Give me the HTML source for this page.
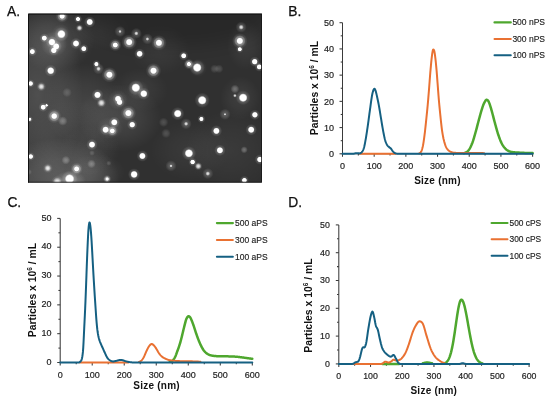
<!DOCTYPE html>
<html lang="en"><head><meta charset="utf-8"><title>Figure</title>
<style>
html,body{margin:0;padding:0;background:#fff;}
body{width:550px;height:403px;overflow:hidden;}
svg{display:block;font-family:"Liberation Sans",Arial,sans-serif;}
</style></head><body>
<svg width="550" height="403" viewBox="0 0 550 403">
<rect width="550" height="403" fill="#fff"/>
<defs>
<radialGradient id="gb"><stop offset="0" stop-color="#fff" stop-opacity="1"/><stop offset="0.68" stop-color="#fff" stop-opacity="1"/><stop offset="0.84" stop-color="#fff" stop-opacity="0.55"/><stop offset="1" stop-color="#fff" stop-opacity="0"/></radialGradient>
<radialGradient id="gm"><stop offset="0" stop-color="#fff" stop-opacity="0.85"/><stop offset="0.4" stop-color="#fff" stop-opacity="0.7"/><stop offset="0.75" stop-color="#fff" stop-opacity="0.28"/><stop offset="1" stop-color="#fff" stop-opacity="0"/></radialGradient>
<radialGradient id="gd"><stop offset="0" stop-color="#fff" stop-opacity="0.30"/><stop offset="0.5" stop-color="#fff" stop-opacity="0.2"/><stop offset="1" stop-color="#fff" stop-opacity="0"/></radialGradient>
<radialGradient id="gh"><stop offset="0" stop-color="#fff" stop-opacity="0.26"/><stop offset="0.6" stop-color="#fff" stop-opacity="0.17"/><stop offset="1" stop-color="#fff" stop-opacity="0"/></radialGradient>
<radialGradient id="gr"><stop offset="0" stop-color="#fff" stop-opacity="0.30"/><stop offset="0.72" stop-color="#fff" stop-opacity="0.26"/><stop offset="0.9" stop-color="#fff" stop-opacity="0.12"/><stop offset="1" stop-color="#fff" stop-opacity="0"/></radialGradient>
<radialGradient id="gw"><stop offset="0" stop-color="#fff" stop-opacity="1"/><stop offset="0.5" stop-color="#fff" stop-opacity="0.6"/><stop offset="1" stop-color="#fff" stop-opacity="0"/></radialGradient>
<clipPath id="mc"><rect x="28" y="14" width="234" height="168.6"/></clipPath>
<filter id="bl2" x="-20%" y="-20%" width="140%" height="140%"><feGaussianBlur stdDeviation="8"/></filter>
<filter id="bl" x="-5%" y="-5%" width="110%" height="110%"><feGaussianBlur stdDeviation="0.55"/></filter>
</defs>
<rect x="28" y="13.6" width="234" height="169" fill="#303030"/>
<g clip-path="url(#mc)">
<ellipse cx="38" cy="95" rx="45" ry="95" fill="url(#gw)" opacity="0.15"/>
<ellipse cx="55" cy="40" rx="40" ry="32" fill="url(#gw)" opacity="0.12"/>
<ellipse cx="60" cy="180" rx="60" ry="42" fill="url(#gw)" opacity="0.22"/>
<ellipse cx="120" cy="118" rx="42" ry="34" fill="url(#gw)" opacity="0.11"/>
<ellipse cx="140" cy="90" rx="28" ry="22" fill="url(#gw)" opacity="0.06"/>
<ellipse cx="100" cy="30" rx="30" ry="20" fill="url(#gw)" opacity="0.04"/>
<ellipse cx="190" cy="150" rx="40" ry="30" fill="url(#gw)" opacity="0.05"/>
<ellipse cx="160" cy="50" rx="30" ry="25" fill="url(#gw)" opacity="0.05"/>
<ellipse cx="245" cy="45" rx="18" ry="25" fill="url(#gw)" opacity="0.06"/>
<ellipse cx="90" cy="150" rx="30" ry="25" fill="url(#gw)" opacity="0.06"/>
<ellipse cx="85" cy="105" rx="42" ry="42" fill="url(#gw)" opacity="0.1"/>
<ellipse cx="240" cy="98" rx="20" ry="22" fill="url(#gw)" opacity="0.07"/>
<ellipse cx="230" cy="150" rx="45" ry="40" fill="url(#gw)" opacity="0.05"/>
<ellipse cx="70" cy="140" rx="50" ry="40" fill="url(#gw)" opacity="0.05"/>
<ellipse cx="70" cy="181" rx="16" ry="10" fill="url(#gw)" opacity="0.25"/>
<ellipse cx="95" cy="172" rx="30" ry="18" fill="url(#gw)" opacity="0.08"/>
<ellipse cx="54" cy="44" rx="13" ry="13" fill="url(#gw)" opacity="0.22"/>
<ellipse cx="118" cy="100" rx="10" ry="10" fill="url(#gw)" opacity="0.14"/>
<ellipse cx="110" cy="128" rx="13" ry="11" fill="url(#gw)" opacity="0.12"/>
<ellipse cx="138" cy="90" rx="11" ry="10" fill="url(#gw)" opacity="0.12"/>
<ellipse cx="61" cy="33" rx="9" ry="9" fill="url(#gw)" opacity="0.12"/>
<ellipse cx="198" cy="68" rx="9" ry="9" fill="url(#gw)" opacity="0.1"/>
<ellipse cx="175" cy="12" rx="95" ry="34" fill="#000" opacity="0.16" filter="url(#bl2)"/>
<g filter="url(#bl)">
<circle cx="62.1" cy="16.1" r="6.6" fill="url(#gh)"/>
<circle cx="62.1" cy="16.1" r="4.8" fill="url(#gr)"/>
<circle cx="62.1" cy="16.1" r="3.0" fill="url(#gb)"/>
<circle cx="78.0" cy="19.1" r="4.1" fill="url(#gh)"/>
<circle cx="78.0" cy="19.1" r="2.4" fill="url(#gb)"/>
<circle cx="89.7" cy="22.0" r="5.8" fill="url(#gh)"/>
<circle cx="89.7" cy="22.0" r="3.4" fill="url(#gb)"/>
<circle cx="79.5" cy="28.0" r="3.8" fill="url(#gh)"/>
<circle cx="79.5" cy="28.0" r="2.7" fill="url(#gm)"/>
<circle cx="61.4" cy="34.1" r="7.2" fill="url(#gh)"/>
<circle cx="61.4" cy="34.1" r="4.3" fill="url(#gb)"/>
<circle cx="44.3" cy="38.1" r="4.8" fill="url(#gh)"/>
<circle cx="44.3" cy="38.1" r="2.8" fill="url(#gb)"/>
<circle cx="51.9" cy="42.1" r="6.2" fill="url(#gh)"/>
<circle cx="51.9" cy="42.1" r="3.7" fill="url(#gb)"/>
<circle cx="56.2" cy="46.4" r="5.8" fill="url(#gh)"/>
<circle cx="56.2" cy="46.4" r="3.4" fill="url(#gb)"/>
<circle cx="53.8" cy="50.4" r="5.3" fill="url(#gh)"/>
<circle cx="53.8" cy="50.4" r="3.1" fill="url(#gb)"/>
<circle cx="76.0" cy="43.5" r="5.8" fill="url(#gh)"/>
<circle cx="76.0" cy="43.5" r="3.4" fill="url(#gb)"/>
<circle cx="83.8" cy="48.7" r="4.8" fill="url(#gh)"/>
<circle cx="83.8" cy="48.7" r="2.8" fill="url(#gb)"/>
<circle cx="32.3" cy="51.6" r="4.8" fill="url(#gh)"/>
<circle cx="32.3" cy="51.6" r="2.8" fill="url(#gb)"/>
<circle cx="50.7" cy="70.7" r="6.2" fill="url(#gh)"/>
<circle cx="50.7" cy="70.7" r="3.7" fill="url(#gb)"/>
<circle cx="30.6" cy="83.5" r="4.3" fill="url(#gh)"/>
<circle cx="30.6" cy="83.5" r="2.6" fill="url(#gb)"/>
<circle cx="41.3" cy="86.6" r="4.8" fill="url(#gh)"/>
<circle cx="41.3" cy="86.6" r="3.4" fill="url(#gm)"/>
<circle cx="67.0" cy="92.5" r="4.8" fill="url(#gd)" opacity="0.55"/>
<circle cx="96.4" cy="64.1" r="4.1" fill="url(#gh)"/>
<circle cx="96.4" cy="64.1" r="2.4" fill="url(#gb)"/>
<circle cx="98.5" cy="68.8" r="5.6" fill="url(#gd)" opacity="0.8"/>
<circle cx="98.5" cy="68.8" r="2.4" fill="url(#gm)"/>
<circle cx="109.4" cy="74.7" r="7.8" fill="url(#gh)"/>
<circle cx="109.4" cy="74.7" r="5.7" fill="url(#gr)"/>
<circle cx="109.4" cy="74.7" r="3.5" fill="url(#gb)"/>
<circle cx="115.3" cy="45.0" r="6.3" fill="url(#gh)"/>
<circle cx="115.3" cy="45.0" r="4.6" fill="url(#gr)"/>
<circle cx="115.3" cy="45.0" r="2.8" fill="url(#gb)"/>
<circle cx="129.2" cy="42.1" r="7.8" fill="url(#gh)"/>
<circle cx="129.2" cy="42.1" r="5.7" fill="url(#gr)"/>
<circle cx="129.2" cy="42.1" r="3.5" fill="url(#gb)"/>
<circle cx="136.3" cy="33.4" r="5.6" fill="url(#gd)" opacity="0.8"/>
<circle cx="136.3" cy="33.4" r="2.2" fill="url(#gm)"/>
<circle cx="120.0" cy="31.5" r="5.6" fill="url(#gd)" opacity="0.8"/>
<circle cx="120.0" cy="31.5" r="1.7" fill="url(#gm)"/>
<circle cx="139.6" cy="53.8" r="5.5" fill="url(#gh)"/>
<circle cx="139.6" cy="53.8" r="3.3" fill="url(#gb)"/>
<circle cx="135.8" cy="87.7" r="7.7" fill="url(#gh)"/>
<circle cx="135.8" cy="87.7" r="4.5" fill="url(#gb)"/>
<circle cx="143.8" cy="93.7" r="6.2" fill="url(#gh)"/>
<circle cx="143.8" cy="93.7" r="3.7" fill="url(#gb)"/>
<circle cx="97.5" cy="94.9" r="6.0" fill="url(#gh)"/>
<circle cx="97.5" cy="94.9" r="3.5" fill="url(#gb)"/>
<circle cx="118.0" cy="98.8" r="5.5" fill="url(#gh)"/>
<circle cx="118.0" cy="98.8" r="3.3" fill="url(#gb)"/>
<circle cx="119.6" cy="102.2" r="5.3" fill="url(#gh)"/>
<circle cx="119.6" cy="102.2" r="3.1" fill="url(#gb)"/>
<circle cx="147.4" cy="39.0" r="5.6" fill="url(#gd)" opacity="0.8"/>
<circle cx="147.4" cy="39.0" r="1.9" fill="url(#gm)"/>
<circle cx="158.9" cy="42.8" r="7.8" fill="url(#gh)"/>
<circle cx="158.9" cy="42.8" r="5.7" fill="url(#gr)"/>
<circle cx="158.9" cy="42.8" r="3.5" fill="url(#gb)"/>
<circle cx="183.7" cy="55.8" r="4.8" fill="url(#gh)"/>
<circle cx="183.7" cy="55.8" r="2.8" fill="url(#gb)"/>
<circle cx="188.9" cy="64.1" r="5.4" fill="url(#gh)"/>
<circle cx="188.9" cy="64.1" r="4.0" fill="url(#gr)"/>
<circle cx="188.9" cy="64.1" r="2.4" fill="url(#gb)"/>
<circle cx="197.2" cy="67.6" r="7.7" fill="url(#gh)"/>
<circle cx="197.2" cy="67.6" r="4.5" fill="url(#gb)"/>
<circle cx="153.5" cy="70.7" r="7.8" fill="url(#gh)"/>
<circle cx="153.5" cy="70.7" r="5.7" fill="url(#gr)"/>
<circle cx="153.5" cy="70.7" r="3.5" fill="url(#gb)"/>
<circle cx="202.2" cy="100.3" r="7.7" fill="url(#gh)"/>
<circle cx="202.2" cy="100.3" r="4.5" fill="url(#gb)"/>
<circle cx="241.2" cy="27.2" r="5.6" fill="url(#gd)" opacity="0.8"/>
<circle cx="241.2" cy="27.2" r="2.6" fill="url(#gm)"/>
<circle cx="239.8" cy="40.9" r="7.8" fill="url(#gh)"/>
<circle cx="239.8" cy="40.9" r="5.7" fill="url(#gr)"/>
<circle cx="239.8" cy="40.9" r="3.5" fill="url(#gb)"/>
<circle cx="239.8" cy="49.2" r="3.8" fill="url(#gh)"/>
<circle cx="239.8" cy="49.2" r="2.3" fill="url(#gb)"/>
<circle cx="254.7" cy="61.7" r="5.3" fill="url(#gh)"/>
<circle cx="254.7" cy="61.7" r="3.1" fill="url(#gb)"/>
<circle cx="259.3" cy="66.9" r="4.8" fill="url(#gh)"/>
<circle cx="259.3" cy="66.9" r="2.8" fill="url(#gb)"/>
<circle cx="243.1" cy="97.7" r="7.4" fill="url(#gh)"/>
<circle cx="243.1" cy="97.7" r="4.4" fill="url(#gb)"/>
<circle cx="214.5" cy="68.8" r="4.4" fill="url(#gd)" opacity="0.55"/>
<circle cx="219.0" cy="68.8" r="4.4" fill="url(#gd)" opacity="0.55"/>
<circle cx="101.4" cy="102.9" r="5.0" fill="url(#gh)"/>
<circle cx="101.4" cy="102.9" r="3.6" fill="url(#gm)"/>
<circle cx="43.2" cy="107.2" r="4.8" fill="url(#gh)"/>
<circle cx="43.2" cy="107.2" r="2.8" fill="url(#gb)"/>
<circle cx="46.6" cy="105.4" r="2.4" fill="url(#gh)"/>
<circle cx="46.6" cy="105.4" r="1.4" fill="url(#gb)"/>
<circle cx="54.2" cy="116.1" r="7.2" fill="url(#gh)"/>
<circle cx="54.2" cy="116.1" r="5.3" fill="url(#gr)"/>
<circle cx="54.2" cy="116.1" r="3.2" fill="url(#gb)"/>
<circle cx="62.7" cy="121.0" r="4.8" fill="url(#gd)"/>
<circle cx="29.8" cy="119.3" r="3.1" fill="url(#gh)"/>
<circle cx="29.8" cy="119.3" r="1.8" fill="url(#gb)"/>
<circle cx="128.4" cy="113.1" r="7.8" fill="url(#gh)"/>
<circle cx="128.4" cy="113.1" r="5.7" fill="url(#gr)"/>
<circle cx="128.4" cy="113.1" r="3.5" fill="url(#gb)"/>
<circle cx="114.3" cy="122.3" r="5.8" fill="url(#gh)"/>
<circle cx="114.3" cy="122.3" r="3.4" fill="url(#gb)"/>
<circle cx="132.2" cy="124.7" r="5.3" fill="url(#gh)"/>
<circle cx="132.2" cy="124.7" r="3.1" fill="url(#gb)"/>
<circle cx="105.6" cy="129.7" r="5.8" fill="url(#gh)"/>
<circle cx="105.6" cy="129.7" r="3.4" fill="url(#gb)"/>
<circle cx="112.3" cy="130.9" r="6.0" fill="url(#gh)"/>
<circle cx="112.3" cy="130.9" r="4.4" fill="url(#gr)"/>
<circle cx="112.3" cy="130.9" r="2.7" fill="url(#gb)"/>
<circle cx="92.0" cy="144.6" r="5.8" fill="url(#gh)"/>
<circle cx="92.0" cy="144.6" r="3.4" fill="url(#gb)"/>
<circle cx="142.4" cy="156.0" r="5.8" fill="url(#gh)"/>
<circle cx="142.4" cy="156.0" r="3.4" fill="url(#gb)"/>
<circle cx="30.7" cy="156.5" r="4.3" fill="url(#gh)"/>
<circle cx="30.7" cy="156.5" r="2.6" fill="url(#gb)"/>
<circle cx="65.9" cy="160.2" r="4.4" fill="url(#gd)"/>
<circle cx="91.5" cy="163.9" r="4.4" fill="url(#gd)"/>
<circle cx="47.8" cy="168.2" r="4.2" fill="url(#gh)"/>
<circle cx="47.8" cy="168.2" r="3.1" fill="url(#gm)"/>
<circle cx="47.8" cy="168.2" r="5.2" fill="url(#gd)" opacity="0.55"/>
<circle cx="76.6" cy="168.9" r="6.3" fill="url(#gh)"/>
<circle cx="76.6" cy="168.9" r="4.6" fill="url(#gr)"/>
<circle cx="76.6" cy="168.9" r="2.8" fill="url(#gb)"/>
<circle cx="134.1" cy="174.4" r="6.2" fill="url(#gh)"/>
<circle cx="134.1" cy="174.4" r="3.7" fill="url(#gb)"/>
<circle cx="69.6" cy="178.8" r="8.2" fill="url(#gh)"/>
<circle cx="69.6" cy="178.8" r="4.8" fill="url(#gb)"/>
<circle cx="57.2" cy="181.8" r="6.0" fill="url(#gh)"/>
<circle cx="57.2" cy="181.8" r="4.3" fill="url(#gm)"/>
<circle cx="107.1" cy="179.0" r="4.2" fill="url(#gh)"/>
<circle cx="107.1" cy="179.0" r="3.1" fill="url(#gr)"/>
<circle cx="107.1" cy="179.0" r="1.9" fill="url(#gb)"/>
<circle cx="92.0" cy="153.0" r="2.8" fill="url(#gd)" opacity="0.55"/>
<circle cx="29.0" cy="172.0" r="3.0" fill="url(#gd)" opacity="0.55"/>
<circle cx="108.8" cy="163.2" r="2.6" fill="url(#gd)" opacity="0.55"/>
<circle cx="177.7" cy="113.6" r="6.7" fill="url(#gh)"/>
<circle cx="177.7" cy="113.6" r="4.0" fill="url(#gb)"/>
<circle cx="201.4" cy="119.0" r="4.1" fill="url(#gh)"/>
<circle cx="201.4" cy="119.0" r="2.4" fill="url(#gb)"/>
<circle cx="186.1" cy="123.8" r="5.6" fill="url(#gd)" opacity="0.8"/>
<circle cx="186.1" cy="123.8" r="2.2" fill="url(#gm)"/>
<circle cx="225.0" cy="114.3" r="5.6" fill="url(#gd)" opacity="0.8"/>
<circle cx="225.0" cy="114.3" r="1.4" fill="url(#gm)"/>
<circle cx="254.9" cy="114.8" r="5.3" fill="url(#gh)"/>
<circle cx="254.9" cy="114.8" r="3.1" fill="url(#gb)"/>
<circle cx="216.4" cy="130.9" r="5.8" fill="url(#gh)"/>
<circle cx="216.4" cy="130.9" r="3.4" fill="url(#gb)"/>
<circle cx="251.2" cy="129.7" r="5.8" fill="url(#gh)"/>
<circle cx="251.2" cy="129.7" r="3.4" fill="url(#gb)"/>
<circle cx="163.6" cy="122.3" r="4.8" fill="url(#gd)" opacity="0.55"/>
<circle cx="166.0" cy="133.4" r="4.8" fill="url(#gd)" opacity="0.55"/>
<circle cx="219.9" cy="150.3" r="5.8" fill="url(#gh)"/>
<circle cx="219.9" cy="150.3" r="3.4" fill="url(#gb)"/>
<circle cx="188.9" cy="153.3" r="7.2" fill="url(#gh)"/>
<circle cx="188.9" cy="153.3" r="4.3" fill="url(#gb)"/>
<circle cx="192.6" cy="162.0" r="4.3" fill="url(#gh)"/>
<circle cx="192.6" cy="162.0" r="2.6" fill="url(#gb)"/>
<circle cx="198.3" cy="166.2" r="4.2" fill="url(#gh)"/>
<circle cx="198.3" cy="166.2" r="3.1" fill="url(#gm)"/>
<circle cx="171.0" cy="165.9" r="5.6" fill="url(#gd)" opacity="0.8"/>
<circle cx="171.0" cy="165.9" r="1.7" fill="url(#gm)"/>
<circle cx="207.8" cy="173.6" r="5.6" fill="url(#gd)" opacity="0.8"/>
<circle cx="207.8" cy="173.6" r="2.4" fill="url(#gm)"/>
<circle cx="244.4" cy="180.3" r="4.6" fill="url(#gh)"/>
<circle cx="244.4" cy="180.3" r="2.7" fill="url(#gb)"/>
<circle cx="259.9" cy="159.5" r="5.3" fill="url(#gh)"/>
<circle cx="259.9" cy="159.5" r="3.1" fill="url(#gb)"/>
<circle cx="244.2" cy="149.8" r="3.6" fill="url(#gd)"/>
<circle cx="234.9" cy="89.0" r="4.4" fill="url(#gd)"/>
<circle cx="234.9" cy="95.6" r="2.2" fill="url(#gh)"/>
<circle cx="234.9" cy="95.6" r="1.6" fill="url(#gm)"/>
</g></g>
<path d="M28.5 182.6 V14.1 H261.8" stroke="#111" stroke-width="1" fill="none"/>
<path d="M28.2 182.2 H261.5 V14" stroke="#161616" stroke-width="0.8" fill="none"/>
<g font-size="13.8" fill="#111" stroke="#111" stroke-width="0.25">
<text x="7" y="16">A.</text>
<text x="288.2" y="16">B.</text>
<text x="7.4" y="207.4">C.</text>
<text x="288.2" y="207.2">D.</text>
</g>
<g stroke="#3a3a3a" stroke-width="1.05" fill="none">
<path d="M342.50 22.70 V153.80"/>
<path d="M342.50 153.80 H532.60"/>
<path d="M339.50 153.80 H342.50"/>
<path d="M340.70 140.69 H342.50"/>
<path d="M339.50 127.58 H342.50"/>
<path d="M340.70 114.47 H342.50"/>
<path d="M339.50 101.36 H342.50"/>
<path d="M340.70 88.25 H342.50"/>
<path d="M339.50 75.14 H342.50"/>
<path d="M340.70 62.03 H342.50"/>
<path d="M339.50 48.92 H342.50"/>
<path d="M340.70 35.81 H342.50"/>
<path d="M339.50 22.70 H342.50"/>
<path d="M342.50 153.80 V156.80"/>
<path d="M358.34 153.80 V155.60"/>
<path d="M374.18 153.80 V156.80"/>
<path d="M390.02 153.80 V155.60"/>
<path d="M405.87 153.80 V156.80"/>
<path d="M421.71 153.80 V155.60"/>
<path d="M437.55 153.80 V156.80"/>
<path d="M453.39 153.80 V155.60"/>
<path d="M469.23 153.80 V156.80"/>
<path d="M485.08 153.80 V155.60"/>
<path d="M500.92 153.80 V156.80"/>
<path d="M516.76 153.80 V155.60"/>
<path d="M532.60 153.80 V156.80"/>
</g>
<path d="M463.85 153.24 L464.16 153.16 L464.48 153.07 L464.80 152.95 L465.11 152.80 L465.43 152.63 L465.75 152.46 L466.06 152.29 L466.38 152.12 L466.70 151.94 L467.02 151.74 L467.33 151.52 L467.65 151.27 L467.97 150.97 L468.28 150.64 L468.60 150.26 L468.92 149.82 L469.23 149.35 L469.55 148.85 L469.87 148.32 L470.18 147.75 L470.50 147.14 L470.82 146.50 L471.13 145.82 L471.45 145.11 L471.77 144.35 L472.08 143.56 L472.40 142.72 L472.72 141.82 L473.04 140.88 L473.35 139.89 L473.67 138.86 L473.99 137.80 L474.30 136.71 L474.62 135.61 L474.94 134.50 L475.25 133.38 L475.57 132.26 L475.89 131.14 L476.20 129.98 L476.52 128.80 L476.84 127.60 L477.15 126.38 L477.47 125.16 L477.79 123.93 L478.10 122.72 L478.42 121.51 L478.74 120.32 L479.06 119.16 L479.37 118.01 L479.69 116.85 L480.01 115.69 L480.32 114.54 L480.64 113.39 L480.96 112.26 L481.27 111.15 L481.59 110.07 L481.91 109.03 L482.22 108.02 L482.54 107.05 L482.86 106.15 L483.17 105.31 L483.49 104.53 L483.81 103.80 L484.12 103.13 L484.44 102.49 L484.76 101.89 L485.08 101.32 L485.39 100.78 L485.71 100.34 L486.03 100.01 L486.34 99.82 L486.66 99.79 L486.98 99.86 L487.29 99.99 L487.61 100.19 L487.93 100.49 L488.24 100.90 L488.56 101.43 L488.88 102.10 L489.19 102.86 L489.51 103.70 L489.83 104.61 L490.14 105.57 L490.46 106.58 L490.78 107.62 L491.09 108.69 L491.41 109.77 L491.73 110.89 L492.05 112.06 L492.36 113.25 L492.68 114.46 L493.00 115.68 L493.31 116.92 L493.63 118.15 L493.95 119.37 L494.26 120.57 L494.58 121.76 L494.90 122.91 L495.21 124.07 L495.53 125.24 L495.85 126.40 L496.16 127.55 L496.48 128.70 L496.80 129.82 L497.11 130.93 L497.43 132.00 L497.75 133.04 L498.07 134.04 L498.38 135.00 L498.70 135.94 L499.02 136.84 L499.33 137.72 L499.65 138.58 L499.97 139.40 L500.28 140.20 L500.60 140.96 L500.92 141.69 L501.23 142.39 L501.55 143.06 L501.87 143.69 L502.18 144.28 L502.50 144.83 L502.82 145.35 L503.13 145.84 L503.45 146.30 L503.77 146.74 L504.09 147.15 L504.40 147.55 L504.72 147.92 L505.04 148.28 L505.35 148.63 L505.67 148.95 L505.99 149.24 L506.30 149.52 L506.62 149.77 L506.94 150.00 L507.25 150.21 L507.57 150.41 L507.89 150.60 L508.20 150.78 L508.52 150.95 L508.84 151.12 L509.15 151.27 L509.47 151.40 L509.79 151.52 L510.10 151.63 L510.42 151.72 L510.74 151.80 L511.06 151.88 L511.37 151.94 L511.69 152.00 L512.01 152.05 L512.32 152.10 L512.64 152.15 L512.96 152.19 L513.27 152.22 L513.59 152.26 L513.91 152.29 L514.22 152.31 L514.54 152.34 L514.86 152.36 L515.17 152.38 L515.49 152.40 L515.81 152.42 L516.12 152.44 L516.44 152.46 L516.76 152.47 L517.08 152.49 L517.39 152.50 L517.71 152.52 L518.03 152.54 L518.34 152.55 L518.66 152.57 L518.98 152.59 L519.29 152.61 L519.61 152.63 L519.93 152.65 L520.24 152.67 L520.56 152.68 L520.88 152.70 L521.19 152.72 L521.51 152.73 L521.83 152.75 L522.14 152.77 L522.46 152.78 L522.78 152.80 L523.10 152.81 L523.41 152.83 L523.73 152.84 L524.05 152.85 L524.36 152.87 L524.68 152.88 L525.00 152.89 L525.31 152.91 L525.63 152.92 L525.95 152.93 L526.26 152.94 L526.58 152.96 L526.90 152.97 L527.21 152.98 L527.53 152.99 L527.85 153.00 L528.16 153.01 L528.48 153.01 L528.80 153.02 L529.11 153.03 L529.43 153.04 L529.75 153.05 L530.07 153.05 L530.38 153.06 L530.70 153.07 L531.02 153.08 L531.33 153.09 L531.65 153.09 L531.97 153.10 L532.28 153.11 L532.60 153.12" fill="none" stroke="#4EA72E" stroke-width="2.5" stroke-linejoin="round" stroke-linecap="round"/>
<path d="M359.93 153.80 L360.24 153.80 L360.56 153.80 L360.88 153.80 L361.19 153.80 L361.51 153.80 L361.83 153.80 L362.14 153.80 L362.46 153.80 L362.78 153.80 L363.09 153.80 L363.41 153.80 L363.73 153.80 L364.04 153.80 L364.36 153.80 L364.68 153.80 L365.00 153.80 L365.31 153.80 L365.63 153.80 L365.95 153.80 L366.26 153.80 L366.58 153.80 L366.90 153.80 L367.21 153.80 L367.53 153.80 L367.85 153.80 L368.16 153.80 L368.48 153.80 L368.80 153.80 L369.11 153.80 L369.43 153.80 L369.75 153.80 L370.06 153.80 L370.38 153.80 L370.70 153.80 L371.01 153.80 L371.33 153.80 L371.65 153.80 L371.97 153.80 L372.28 153.80 L372.60 153.80 L372.92 153.80 L373.23 153.80 L373.55 153.80 L373.87 153.80 L374.18 153.80 L374.50 153.80 L374.82 153.80 L375.13 153.80 L375.45 153.80 L375.77 153.80 L376.08 153.80 L376.40 153.80 L376.72 153.80 L377.03 153.80 L377.35 153.80 L377.67 153.80 L377.99 153.80 L378.30 153.80 L378.62 153.80 L378.94 153.80 L379.25 153.80 L379.57 153.80 L379.89 153.80 L380.20 153.80 L380.52 153.80 L380.84 153.80 L381.15 153.80 L381.47 153.80 L381.79 153.80 L382.10 153.80 L382.42 153.80 L382.74 153.80 L383.05 153.80 L383.37 153.80 L383.69 153.80 L384.01 153.80 L384.32 153.80 L384.64 153.80 L384.96 153.80 L385.27 153.80 L385.59 153.80 L385.91 153.80 L386.22 153.80 L386.54 153.80 L386.86 153.80 L387.17 153.80 L387.49 153.80 L387.81 153.80 L388.12 153.80 L388.44 153.80 L388.76 153.80 L389.07 153.80 L389.39 153.80 L389.71 153.80 L390.02 153.80 L390.34 153.80 L390.66 153.80 L390.98 153.80 L391.29 153.80 L391.61 153.80 L391.93 153.80 L392.24 153.80 L392.56 153.80 L392.88 153.80 L393.19 153.80 L393.51 153.80 L393.83 153.80 L394.14 153.80 L394.46 153.80 L394.78 153.80 L395.09 153.80 L395.41 153.80 M419.17 153.35 L419.49 153.22 L419.81 153.02 L420.12 152.75 L420.44 152.44 L420.76 152.11 L421.07 151.69 L421.39 151.14 L421.71 150.39 L422.03 149.45 L422.34 148.33 L422.66 147.03 L422.98 145.54 L423.29 143.82 L423.61 141.87 L423.93 139.71 L424.24 137.37 L424.56 134.89 L424.88 132.29 L425.19 129.51 L425.51 126.59 L425.83 123.58 L426.14 120.54 L426.46 117.51 L426.78 114.46 L427.09 111.35 L427.41 108.13 L427.73 104.77 L428.05 101.20 L428.36 97.42 L428.68 93.52 L429.00 89.56 L429.31 85.46 L429.63 81.20 L429.95 77.00 L430.26 73.04 L430.58 69.34 L430.90 65.79 L431.21 62.46 L431.53 59.41 L431.85 56.66 L432.16 54.23 L432.48 52.16 L432.80 50.55 L433.11 49.67 L433.43 49.44 L433.75 49.70 L434.06 50.39 L434.38 51.54 L434.70 53.20 L435.02 55.33 L435.33 57.83 L435.65 60.64 L435.97 63.73 L436.28 67.08 L436.60 70.70 L436.92 74.69 L437.23 78.86 L437.55 83.01 L437.87 87.17 L438.18 91.39 L438.50 95.53 L438.82 99.42 L439.13 103.00 L439.45 106.38 L439.77 109.62 L440.08 112.77 L440.40 115.88 L440.72 118.98 L441.04 122.04 L441.35 124.95 L441.67 127.65 L441.99 130.06 L442.30 132.19 L442.62 134.12 L442.94 135.87 L443.25 137.49 L443.57 138.99 L443.89 140.33 L444.20 141.53 L444.52 142.63 L444.84 143.68 L445.15 144.67 L445.47 145.59 L445.79 146.42 L446.10 147.14 L446.42 147.73 L446.74 148.26 L447.06 148.73 L447.37 149.15 L447.69 149.53 L448.01 149.88 L448.32 150.19 L448.64 150.47 L448.96 150.74 L449.27 150.98 L449.59 151.19 L449.91 151.39 L450.22 151.57 L450.54 151.73 L450.86 151.88 L451.17 152.01 L451.49 152.14 L451.81 152.25 L452.12 152.35 L452.44 152.44 L452.76 152.52 L453.07 152.59 L453.39 152.65 L453.71 152.70 L454.03 152.74 L454.34 152.78 L454.66 152.81 L454.98 152.84 L455.29 152.86 L455.61 152.87 L455.93 152.89 L456.24 152.90 L456.56 152.92 L456.88 152.93 L457.19 152.94 L457.51 152.95 L457.83 152.96 L458.14 152.97 L458.46 152.97 L458.78 152.98 L459.09 152.99 L459.41 152.99 L459.73 152.99 L460.05 153.00 L460.36 153.00 L460.68 153.00 L461.00 153.00 L461.31 153.01 L461.63 153.01 L461.95 153.01 L462.26 153.01 L462.58 153.01 L462.90 153.01 L463.21 153.01 L463.53 153.01 L463.85 153.01 L464.16 153.01 L464.48 153.01 L464.80 153.01 L465.11 153.01 L465.43 153.01 L465.75 153.01 L466.06 153.01 L466.38 153.01 L466.70 153.01 L467.02 153.01 L467.33 153.01 L467.65 153.02 L467.97 153.02 L468.28 153.02 L468.60 153.02 L468.92 153.02 L469.23 153.02 L469.55 153.02 L469.87 153.02 L470.18 153.02 L470.50 153.02 L470.82 153.02 L471.13 153.02 L471.45 153.02 L471.77 153.02 L472.08 153.02 L472.40 153.02 L472.72 153.01 L473.04 153.01 L473.35 153.01 L473.67 153.01 L473.99 153.01 L474.30 153.01 L474.62 153.01 L474.94 153.01 L475.25 153.01 L475.57 153.01 L475.89 153.00 L476.20 153.00 L476.52 153.00 L476.84 153.00 L477.15 153.01 L477.47 153.01 L477.79 153.01 L478.10 153.01 L478.42 153.01 L478.74 153.01 L479.06 153.02 L479.37 153.02 L479.69 153.02 L480.01 153.03 L480.32 153.03 L480.64 153.04 L480.96 153.04 L481.27 153.05 L481.59 153.05 L481.91 153.06 L482.22 153.07 L482.54 153.08 L482.86 153.10 L483.17 153.11 L483.49 153.13 L483.81 153.15 L484.12 153.18" fill="none" stroke="#E97132" stroke-width="2.0" stroke-linejoin="round" stroke-linecap="round"/>
<path d="M342.50 153.80 L342.82 153.80 L343.13 153.80 L343.45 153.80 L343.77 153.80 L344.08 153.80 L344.40 153.80 L344.72 153.80 L345.03 153.80 L345.35 153.80 L345.67 153.80 L345.99 153.80 L346.30 153.80 L346.62 153.80 L346.94 153.80 L347.25 153.80 L347.57 153.80 L347.89 153.80 L348.20 153.80 L348.52 153.80 L348.84 153.80 L349.15 153.80 L349.47 153.80 L349.79 153.80 L350.10 153.80 L350.42 153.80 L350.74 153.80 L351.05 153.80 L351.37 153.80 L351.69 153.80 L352.00 153.80 L352.32 153.80 L352.64 153.80 L352.96 153.80 L353.27 153.78 L353.59 153.73 L353.91 153.67 L354.22 153.60 L354.54 153.54 L354.86 153.46 L355.17 153.38 L355.49 153.30 L355.81 153.24 L356.12 153.21 L356.44 153.21 L356.76 153.22 L357.07 153.24 L357.39 153.26 L357.71 153.28 L358.02 153.29 L358.34 153.32 L358.66 153.35 L358.98 153.37 L359.29 153.38 L359.61 153.35 L359.93 153.28 L360.24 153.18 L360.56 153.07 L360.88 152.92 L361.19 152.73 L361.51 152.47 L361.83 152.13 L362.14 151.70 L362.46 151.24 L362.78 150.73 L363.09 150.12 L363.41 149.39 L363.73 148.50 L364.04 147.42 L364.36 146.14 L364.68 144.69 L365.00 143.10 L365.31 141.40 L365.63 139.63 L365.95 137.81 L366.26 135.92 L366.58 133.93 L366.90 131.86 L367.21 129.73 L367.53 127.56 L367.85 125.36 L368.16 123.13 L368.48 120.83 L368.80 118.47 L369.11 116.10 L369.43 113.72 L369.75 111.39 L370.06 109.10 L370.38 106.79 L370.70 104.47 L371.01 102.18 L371.33 99.97 L371.65 97.87 L371.97 95.93 L372.28 94.25 L372.60 92.84 L372.92 91.64 L373.23 90.61 L373.55 89.76 L373.87 89.16 L374.18 88.83 L374.50 88.79 L374.82 89.05 L375.13 89.57 L375.45 90.35 L375.77 91.34 L376.08 92.50 L376.40 93.78 L376.72 95.14 L377.03 96.54 L377.35 97.97 L377.67 99.43 L377.99 100.94 L378.30 102.51 L378.62 104.13 L378.94 105.82 L379.25 107.60 L379.57 109.48 L379.89 111.42 L380.20 113.39 L380.52 115.37 L380.84 117.31 L381.15 119.21 L381.47 121.14 L381.79 123.06 L382.10 124.97 L382.42 126.84 L382.74 128.64 L383.05 130.36 L383.37 132.06 L383.69 133.73 L384.01 135.33 L384.32 136.85 L384.64 138.25 L384.96 139.50 L385.27 140.60 L385.59 141.56 L385.91 142.42 L386.22 143.18 L386.54 143.87 L386.86 144.50 L387.17 145.07 L387.49 145.53 L387.81 145.91 L388.12 146.24 L388.44 146.54 L388.76 146.83 L389.07 147.13 L389.39 147.39 L389.71 147.61 L390.02 147.82 L390.34 148.05 L390.66 148.31 L390.98 148.63 L391.29 149.05 L391.61 149.55 L391.93 150.06 L392.24 150.53 L392.56 150.93 L392.88 151.31 L393.19 151.68 L393.51 152.03 L393.83 152.35 L394.14 152.62 L394.46 152.83 L394.78 153.01 L395.09 153.15 L395.41 153.28 L395.73 153.38 L396.04 153.46 L396.36 153.54 L396.68 153.61 L397.00 153.68 L397.31 153.74 L397.63 153.77 L397.95 153.79 L398.26 153.80 L398.58 153.80 L398.90 153.80 L399.21 153.80 L399.53 153.80 L399.85 153.80 L400.16 153.80 L400.48 153.80 L400.80 153.80 L401.11 153.80 L401.43 153.80 L401.75 153.80 L402.06 153.80 L402.38 153.80 L402.70 153.80 L403.02 153.80 L403.33 153.80 L403.65 153.80 L403.97 153.80 L404.28 153.80 L404.60 153.80 L404.92 153.80 L405.23 153.80 L405.55 153.80 L405.87 153.80 L406.18 153.80 L406.50 153.80 L406.82 153.80 L407.13 153.80 L407.45 153.80 L407.77 153.80 L408.08 153.80 L408.40 153.80 L408.72 153.80 L409.04 153.80 L409.35 153.80 L409.67 153.80 L409.99 153.80 L410.30 153.80 L410.62 153.80 L410.94 153.80 L411.25 153.80 L411.57 153.80 L411.89 153.80 L412.20 153.80 L412.52 153.80 L412.84 153.80 L413.15 153.80 L413.47 153.80 L413.79 153.80 L414.10 153.80 L414.42 153.80 L414.74 153.80 L415.05 153.80 L415.37 153.80 L415.69 153.80 L416.01 153.80 L416.32 153.80 L416.64 153.80 L416.96 153.80 L417.27 153.80 L417.59 153.80 L417.91 153.80 L418.22 153.80 L418.54 153.80 L418.86 153.80 L419.17 153.80 L419.49 153.80 L419.81 153.80 L420.12 153.80 L420.44 153.80 L420.76 153.80 L421.07 153.80 L421.39 153.80 L421.71 153.80 L422.03 153.80 L422.34 153.80 L422.66 153.80 L422.98 153.80 L423.29 153.80 L423.61 153.80 L423.93 153.80 L424.24 153.80 L424.56 153.80 L424.88 153.80 L425.19 153.80 L425.51 153.80 L425.83 153.80 L426.14 153.80 L426.46 153.80 L426.78 153.80 L427.09 153.80 L427.41 153.80 L427.73 153.80 L428.05 153.80 L428.36 153.80 L428.68 153.80 L429.00 153.80 L429.31 153.80 L429.63 153.80 L429.95 153.80 L430.26 153.80 L430.58 153.80 L430.90 153.80 L431.21 153.80 L431.53 153.80 L431.85 153.80 L432.16 153.80 L432.48 153.80 L432.80 153.80 L433.11 153.80 L433.43 153.80 L433.75 153.80 L434.06 153.80 L434.38 153.80 L434.70 153.80 L435.02 153.80 L435.33 153.80 L435.65 153.80 L435.97 153.80 L436.28 153.80 L436.60 153.80 L436.92 153.80 L437.23 153.80 L437.55 153.80 L437.87 153.80 L438.18 153.80 L438.50 153.80 L438.82 153.80 L439.13 153.80 L439.45 153.80 L439.77 153.80 L440.08 153.80 L440.40 153.80 L440.72 153.80 L441.04 153.80 L441.35 153.80 L441.67 153.80 L441.99 153.80 L442.30 153.80 L442.62 153.80 L442.94 153.80 L443.25 153.80 L443.57 153.80 L443.89 153.80 L444.20 153.80 L444.52 153.80 L444.84 153.80 L445.15 153.80 L445.47 153.80 L445.79 153.80 L446.10 153.80 L446.42 153.80 L446.74 153.80 L447.06 153.80 L447.37 153.80 L447.69 153.80 L448.01 153.80 L448.32 153.80 L448.64 153.80 L448.96 153.80 L449.27 153.80 L449.59 153.80 L449.91 153.80 L450.22 153.80 L450.54 153.80 L450.86 153.80 L451.17 153.80 L451.49 153.80 L451.81 153.80 L452.12 153.80 L452.44 153.80 L452.76 153.80 L453.07 153.80 L453.39 153.80 L453.71 153.80 L454.03 153.80 L454.34 153.80 L454.66 153.80 L454.98 153.80 L455.29 153.80 L455.61 153.80 L455.93 153.80 L456.24 153.80 L456.56 153.80 L456.88 153.80 L457.19 153.80 L457.51 153.80 L457.83 153.80 L458.14 153.80 L458.46 153.80 L458.78 153.80 L459.09 153.80 L459.41 153.80 L459.73 153.80 L460.05 153.80 L460.36 153.80 L460.68 153.80 L461.00 153.80 L461.31 153.80 L461.63 153.80 L461.95 153.80 L462.26 153.80 L462.58 153.80 L462.90 153.80 L463.21 153.80 L463.53 153.80 L463.85 153.80 L464.16 153.80 L464.48 153.80 L464.80 153.80 L465.11 153.80 L465.43 153.80 L465.75 153.80 L466.06 153.80 L466.38 153.80 L466.70 153.80 L467.02 153.80 L467.33 153.80 L467.65 153.80 L467.97 153.80 L468.28 153.80 L468.60 153.80 L468.92 153.80 L469.23 153.80 L469.55 153.80 L469.87 153.80 L470.18 153.80 L470.50 153.80 L470.82 153.80 L471.13 153.80 L471.45 153.80 L471.77 153.80 L472.08 153.80 L472.40 153.80 L472.72 153.80 L473.04 153.80 L473.35 153.80 L473.67 153.80 L473.99 153.80 L474.30 153.80 L474.62 153.80 L474.94 153.80 L475.25 153.80 L475.57 153.80 L475.89 153.80 L476.20 153.80 L476.52 153.80 L476.84 153.80 L477.15 153.80 L477.47 153.80 L477.79 153.80 L478.10 153.80 L478.42 153.80 L478.74 153.80 L479.06 153.80 L479.37 153.80 L479.69 153.80 L480.01 153.80 L480.32 153.80 L480.64 153.80 L480.96 153.80 L481.27 153.80 L481.59 153.80 L481.91 153.80 L482.22 153.80 L482.54 153.80 L482.86 153.80 L483.17 153.80 L483.49 153.80 L483.81 153.80 L484.12 153.80 L484.44 153.80 L484.76 153.80 L485.08 153.80 L485.39 153.80 L485.71 153.80 L486.03 153.80 L486.34 153.80 L486.66 153.80 L486.98 153.80 L487.29 153.80 L487.61 153.80 L487.93 153.80 L488.24 153.80 L488.56 153.80 L488.88 153.80 L489.19 153.80 L489.51 153.80 L489.83 153.80 L490.14 153.80 L490.46 153.80 L490.78 153.80 L491.09 153.80 L491.41 153.80 L491.73 153.80 L492.05 153.80 L492.36 153.80 L492.68 153.80 L493.00 153.80 L493.31 153.80 L493.63 153.80 L493.95 153.80 L494.26 153.80 L494.58 153.80 L494.90 153.80 L495.21 153.80 L495.53 153.80 L495.85 153.80 L496.16 153.80 L496.48 153.80 L496.80 153.80 L497.11 153.80 L497.43 153.80 L497.75 153.80 L498.07 153.80 L498.38 153.80 L498.70 153.80 L499.02 153.80 L499.33 153.80 L499.65 153.80 L499.97 153.80 L500.28 153.80 L500.60 153.80 L500.92 153.80 L501.23 153.80 L501.55 153.80 L501.87 153.80 L502.18 153.80 L502.50 153.80 L502.82 153.80 L503.13 153.80 L503.45 153.80 L503.77 153.80 L504.09 153.80 L504.40 153.80 L504.72 153.80 L505.04 153.80 L505.35 153.80 L505.67 153.80 L505.99 153.80 L506.30 153.80 L506.62 153.80 L506.94 153.80 L507.25 153.80 L507.57 153.80 L507.89 153.80 L508.20 153.80 L508.52 153.80 L508.84 153.80 L509.15 153.80 L509.47 153.80 L509.79 153.80 L510.10 153.80 L510.42 153.80 L510.74 153.80 L511.06 153.80 L511.37 153.80 L511.69 153.80 L512.01 153.80 L512.32 153.80 L512.64 153.80 L512.96 153.80 L513.27 153.80 L513.59 153.80 L513.91 153.80 L514.22 153.80 L514.54 153.80 L514.86 153.80 L515.17 153.80 L515.49 153.80 L515.81 153.80 L516.12 153.80 L516.44 153.80 L516.76 153.80 L517.08 153.80 L517.39 153.80 L517.71 153.80 L518.03 153.80 L518.34 153.80 L518.66 153.80 L518.98 153.80 L519.29 153.80 L519.61 153.80 L519.93 153.80 L520.24 153.80 L520.56 153.80 L520.88 153.80 L521.19 153.80 L521.51 153.80 L521.83 153.80 L522.14 153.80 L522.46 153.80 L522.78 153.80 L523.10 153.80 L523.41 153.80 L523.73 153.80 L524.05 153.80 L524.36 153.80 L524.68 153.80 L525.00 153.80 L525.31 153.80 L525.63 153.80 L525.95 153.80 L526.26 153.80 L526.58 153.80 L526.90 153.80 L527.21 153.80 L527.53 153.80 L527.85 153.80 L528.16 153.80 L528.48 153.80 L528.80 153.80 L529.11 153.80 L529.43 153.80 L529.75 153.80 L530.07 153.80 L530.38 153.80 L530.70 153.80 L531.02 153.80 L531.33 153.80 L531.65 153.80 L531.97 153.80 L532.28 153.80 L532.60 153.80" fill="none" stroke="#156082" stroke-width="2.0" stroke-linejoin="round" stroke-linecap="round"/>
<g font-size="9" fill="#222" stroke="#222" stroke-width="0.18">
<text x="334.00" y="157.04" text-anchor="end">0</text>
<text x="334.00" y="130.82" text-anchor="end">10</text>
<text x="334.00" y="104.60" text-anchor="end">20</text>
<text x="334.00" y="78.38" text-anchor="end">30</text>
<text x="334.00" y="52.16" text-anchor="end">40</text>
<text x="334.00" y="25.94" text-anchor="end">50</text>
<text x="342.50" y="169.14" text-anchor="middle">0</text>
<text x="374.18" y="169.14" text-anchor="middle">100</text>
<text x="405.87" y="169.14" text-anchor="middle">200</text>
<text x="437.55" y="169.14" text-anchor="middle">300</text>
<text x="469.23" y="169.14" text-anchor="middle">400</text>
<text x="500.92" y="169.14" text-anchor="middle">500</text>
<text x="532.60" y="169.14" text-anchor="middle">600</text>
</g>
<text x="437.50" y="184.20" font-size="10" font-weight="bold" letter-spacing="0.25" text-anchor="middle" fill="#111">Size (nm)</text>
<text transform="translate(317.60 88.00) rotate(-90)" font-size="10.4" font-weight="bold" text-anchor="middle" fill="#111">Particles x 10<tspan font-size="6.448" dy="-4.0">6</tspan><tspan dy="4.0"> / mL</tspan></text>
<path d="M494.50 22.40 H510.80" stroke="#4EA72E" stroke-width="2.2" stroke-linecap="round" fill="none"/>
<text x="512.40" y="25.46" font-size="8.5" fill="#222" stroke="#222" stroke-width="0.15">500 nPS</text>
<path d="M494.50 38.90 H510.80" stroke="#E97132" stroke-width="2.0" stroke-linecap="round" fill="none"/>
<text x="512.40" y="41.96" font-size="8.5" fill="#222" stroke="#222" stroke-width="0.15">300 nPS</text>
<path d="M494.50 55.20 H510.80" stroke="#156082" stroke-width="2.0" stroke-linecap="round" fill="none"/>
<text x="512.40" y="58.26" font-size="8.5" fill="#222" stroke="#222" stroke-width="0.15">100 nPS</text>
<g stroke="#3a3a3a" stroke-width="1.05" fill="none">
<path d="M60.20 218.40 V362.50"/>
<path d="M60.20 362.50 H252.30"/>
<path d="M57.20 362.50 H60.20"/>
<path d="M58.40 348.09 H60.20"/>
<path d="M57.20 333.68 H60.20"/>
<path d="M58.40 319.27 H60.20"/>
<path d="M57.20 304.86 H60.20"/>
<path d="M58.40 290.45 H60.20"/>
<path d="M57.20 276.04 H60.20"/>
<path d="M58.40 261.63 H60.20"/>
<path d="M57.20 247.22 H60.20"/>
<path d="M58.40 232.81 H60.20"/>
<path d="M57.20 218.40 H60.20"/>
<path d="M60.20 362.50 V365.50"/>
<path d="M76.21 362.50 V364.30"/>
<path d="M92.22 362.50 V365.50"/>
<path d="M108.23 362.50 V364.30"/>
<path d="M124.23 362.50 V365.50"/>
<path d="M140.24 362.50 V364.30"/>
<path d="M156.25 362.50 V365.50"/>
<path d="M172.26 362.50 V364.30"/>
<path d="M188.27 362.50 V365.50"/>
<path d="M204.28 362.50 V364.30"/>
<path d="M220.28 362.50 V365.50"/>
<path d="M236.29 362.50 V364.30"/>
<path d="M252.30 362.50 V365.50"/>
</g>
<path d="M169.70 361.85 L170.02 361.78 L170.34 361.71 L170.66 361.62 L170.98 361.51 L171.30 361.38 L171.62 361.21 L171.94 361.01 L172.26 360.78 L172.58 360.51 L172.90 360.21 L173.22 359.88 L173.54 359.51 L173.86 359.10 L174.18 358.65 L174.50 358.13 L174.82 357.53 L175.14 356.86 L175.46 356.15 L175.78 355.41 L176.10 354.60 L176.42 353.73 L176.74 352.83 L177.06 351.93 L177.38 351.05 L177.70 350.21 L178.02 349.37 L178.34 348.53 L178.66 347.64 L178.98 346.69 L179.30 345.70 L179.62 344.69 L179.94 343.65 L180.26 342.57 L180.58 341.45 L180.90 340.28 L181.22 339.04 L181.54 337.76 L181.86 336.43 L182.18 335.09 L182.50 333.76 L182.82 332.45 L183.14 331.14 L183.46 329.82 L183.78 328.50 L184.10 327.19 L184.42 325.92 L184.74 324.67 L185.07 323.39 L185.39 322.12 L185.71 320.93 L186.03 319.88 L186.35 319.03 L186.67 318.33 L186.99 317.72 L187.31 317.22 L187.63 316.82 L187.95 316.53 L188.27 316.34 L188.59 316.28 L188.91 316.33 L189.23 316.48 L189.55 316.71 L189.87 317.02 L190.19 317.38 L190.51 317.87 L190.83 318.48 L191.15 319.18 L191.47 319.92 L191.79 320.69 L192.11 321.49 L192.43 322.33 L192.75 323.20 L193.07 324.10 L193.39 325.01 L193.71 325.94 L194.03 326.90 L194.35 327.88 L194.67 328.87 L194.99 329.87 L195.31 330.86 L195.63 331.85 L195.95 332.82 L196.27 333.76 L196.59 334.68 L196.91 335.58 L197.23 336.48 L197.55 337.36 L197.87 338.22 L198.19 339.07 L198.51 339.89 L198.83 340.70 L199.15 341.48 L199.47 342.24 L199.79 342.99 L200.11 343.72 L200.43 344.43 L200.75 345.12 L201.07 345.79 L201.39 346.44 L201.71 347.05 L202.03 347.64 L202.35 348.21 L202.67 348.76 L202.99 349.28 L203.31 349.77 L203.63 350.23 L203.95 350.66 L204.28 351.05 L204.60 351.41 L204.92 351.75 L205.24 352.07 L205.56 352.38 L205.88 352.67 L206.20 352.94 L206.52 353.20 L206.84 353.44 L207.16 353.67 L207.48 353.88 L207.80 354.08 L208.12 354.26 L208.44 354.43 L208.76 354.59 L209.08 354.73 L209.40 354.86 L209.72 354.98 L210.04 355.09 L210.36 355.20 L210.68 355.29 L211.00 355.37 L211.32 355.45 L211.64 355.52 L211.96 355.59 L212.28 355.65 L212.60 355.71 L212.92 355.76 L213.24 355.81 L213.56 355.86 L213.88 355.90 L214.20 355.94 L214.52 355.98 L214.84 356.01 L215.16 356.04 L215.48 356.07 L215.80 356.10 L216.12 356.12 L216.44 356.14 L216.76 356.16 L217.08 356.18 L217.40 356.20 L217.72 356.21 L218.04 356.23 L218.36 356.24 L218.68 356.25 L219.00 356.26 L219.32 356.28 L219.64 356.29 L219.96 356.30 L220.28 356.32 L220.60 356.33 L220.92 356.33 L221.24 356.34 L221.56 356.35 L221.88 356.35 L222.20 356.36 L222.52 356.36 L222.84 356.36 L223.16 356.36 L223.49 356.36 L223.81 356.36 L224.13 356.36 L224.45 356.36 L224.77 356.36 L225.09 356.36 L225.41 356.36 L225.73 356.36 L226.05 356.36 L226.37 356.36 L226.69 356.36 L227.01 356.36 L227.33 356.36 L227.65 356.37 L227.97 356.37 L228.29 356.37 L228.61 356.38 L228.93 356.39 L229.25 356.40 L229.57 356.40 L229.89 356.41 L230.21 356.42 L230.53 356.43 L230.85 356.44 L231.17 356.45 L231.49 356.46 L231.81 356.48 L232.13 356.49 L232.45 356.50 L232.77 356.51 L233.09 356.53 L233.41 356.54 L233.73 356.56 L234.05 356.58 L234.37 356.60 L234.69 356.62 L235.01 356.64 L235.33 356.66 L235.65 356.68 L235.97 356.71 L236.29 356.73 L236.61 356.76 L236.93 356.79 L237.25 356.82 L237.57 356.85 L237.89 356.88 L238.21 356.92 L238.53 356.95 L238.85 356.99 L239.17 357.03 L239.49 357.07 L239.81 357.11 L240.13 357.15 L240.45 357.19 L240.77 357.23 L241.09 357.27 L241.41 357.31 L241.73 357.35 L242.05 357.40 L242.37 357.44 L242.70 357.48 L243.02 357.52 L243.34 357.57 L243.66 357.61 L243.98 357.65 L244.30 357.69 L244.62 357.74 L244.94 357.78 L245.26 357.83 L245.58 357.87 L245.90 357.92 L246.22 357.96 L246.54 358.01 L246.86 358.05 L247.18 358.10 L247.50 358.14 L247.82 358.19 L248.14 358.24 L248.46 358.28 L248.78 358.33 L249.10 358.38 L249.42 358.42 L249.74 358.47 L250.06 358.52 L250.38 358.56 L250.70 358.61 L251.02 358.66 L251.34 358.70 L251.66 358.75 L251.98 358.79 L252.30 358.84" fill="none" stroke="#4EA72E" stroke-width="2.5" stroke-linejoin="round" stroke-linecap="round"/>
<path d="M79.73 362.50 L80.05 362.50 L80.37 362.50 L80.69 362.50 L81.01 362.50 L81.33 362.50 L81.65 362.50 L81.97 362.50 L82.29 362.50 L82.61 362.50 L82.93 362.50 L83.25 362.50 L83.57 362.50 L83.89 362.50 L84.21 362.50 L84.53 362.50 L84.85 362.50 L85.17 362.50 L85.49 362.50 L85.81 362.50 L86.13 362.50 L86.45 362.50 L86.77 362.50 L87.09 362.50 L87.41 362.50 L87.73 362.50 L88.05 362.50 L88.37 362.50 L88.69 362.50 L89.02 362.50 L89.34 362.50 L89.66 362.50 L89.98 362.50 L90.30 362.50 L90.62 362.50 L90.94 362.50 L91.26 362.50 L91.58 362.50 L91.90 362.50 L92.22 362.50 L92.54 362.50 L92.86 362.50 L93.18 362.50 L93.50 362.50 L93.82 362.50 L94.14 362.50 L94.46 362.50 L94.78 362.50 L95.10 362.50 L95.42 362.50 L95.74 362.50 L96.06 362.50 L96.38 362.50 L96.70 362.50 L97.02 362.50 L97.34 362.50 L97.66 362.50 L97.98 362.50 L98.30 362.50 L98.62 362.50 L98.94 362.50 L99.26 362.50 L99.58 362.50 L99.90 362.50 L100.22 362.50 L100.54 362.50 L100.86 362.50 L101.18 362.50 L101.50 362.50 L101.82 362.50 L102.14 362.50 L102.46 362.50 L102.78 362.50 L103.10 362.50 L103.42 362.50 L103.74 362.50 L104.06 362.50 L104.38 362.50 L104.70 362.50 L105.02 362.50 L105.34 362.50 L105.66 362.50 L105.98 362.50 L106.30 362.50 L106.62 362.50 L106.94 362.50 L107.26 362.50 L107.58 362.50 L107.90 362.50 L108.23 362.50 L108.55 362.50 L108.87 362.50 L109.19 362.50 L109.51 362.50 L109.83 362.50 L110.15 362.50 L110.47 362.50 L110.79 362.50 L111.11 362.50 L111.43 362.50 L111.75 362.50 L112.07 362.50 L112.39 362.50 L112.71 362.50 L113.03 362.50 L113.35 362.50 L113.67 362.50 L113.99 362.50 L114.31 362.50 L114.63 362.50 L114.95 362.50 L115.27 362.50 L115.59 362.50 L115.91 362.50 L116.23 362.50 L116.55 362.50 L116.87 362.50 L117.19 362.50 L117.51 362.50 L117.83 362.50 L118.15 362.50 L118.47 362.50 L118.79 362.50 L119.11 362.50 L119.43 362.50 L119.75 362.50 L120.07 362.50 L120.39 362.50 L120.71 362.50 L121.03 362.50 L121.35 362.50 L121.67 362.50 L121.99 362.50 L122.31 362.50 L122.63 362.50 L122.95 362.50 L123.27 362.50 L123.59 362.50 L123.91 362.50 L124.23 362.50 L124.55 362.50 L124.87 362.50 L125.19 362.50 L125.51 362.50 L125.83 362.50 L126.15 362.50 L126.47 362.50 L126.79 362.50 L127.11 362.50 L127.44 362.50 L127.76 362.50 L128.08 362.50 L128.40 362.50 M138.96 361.92 L139.28 361.80 L139.60 361.67 L139.92 361.52 L140.24 361.35 L140.56 361.17 L140.88 360.96 L141.20 360.71 L141.52 360.43 L141.84 360.09 L142.16 359.71 L142.48 359.28 L142.80 358.81 L143.12 358.30 L143.44 357.75 L143.76 357.17 L144.08 356.56 L144.40 355.91 L144.72 355.19 L145.04 354.43 L145.36 353.65 L145.68 352.86 L146.00 352.10 L146.32 351.38 L146.65 350.70 L146.97 350.04 L147.29 349.39 L147.61 348.76 L147.93 348.15 L148.25 347.57 L148.57 347.02 L148.89 346.50 L149.21 346.02 L149.53 345.58 L149.85 345.20 L150.17 344.87 L150.49 344.60 L150.81 344.36 L151.13 344.18 L151.45 344.06 L151.77 344.03 L152.09 344.09 L152.41 344.23 L152.73 344.42 L153.05 344.65 L153.37 344.93 L153.69 345.24 L154.01 345.57 L154.33 345.92 L154.65 346.31 L154.97 346.74 L155.29 347.19 L155.61 347.67 L155.93 348.16 L156.25 348.65 L156.57 349.16 L156.89 349.69 L157.21 350.25 L157.53 350.82 L157.85 351.39 L158.17 351.94 L158.49 352.46 L158.81 352.94 L159.13 353.41 L159.45 353.85 L159.77 354.27 L160.09 354.68 L160.41 355.06 L160.73 355.42 L161.05 355.76 L161.37 356.08 L161.69 356.37 L162.01 356.65 L162.33 356.91 L162.65 357.14 L162.97 357.36 L163.29 357.57 L163.61 357.76 L163.93 357.94 L164.25 358.11 L164.57 358.28 L164.89 358.43 L165.21 358.59 L165.53 358.73 L165.86 358.87 L166.18 359.01 L166.50 359.14 L166.82 359.27 L167.14 359.39 L167.46 359.51 L167.78 359.62 L168.10 359.73 L168.42 359.83 L168.74 359.93 L169.06 360.02 L169.38 360.10 L169.70 360.17 L170.02 360.23 L170.34 360.29 L170.66 360.35 L170.98 360.40 L171.30 360.45 L171.62 360.50 L171.94 360.54 L172.26 360.58 L172.58 360.62 L172.90 360.66 L173.22 360.69 L173.54 360.73 L173.86 360.76 L174.18 360.79 L174.50 360.82 L174.82 360.84 L175.14 360.87 L175.46 360.89 L175.78 360.91 L176.10 360.93 L176.42 360.95 L176.74 360.97 L177.06 360.99 L177.38 361.01 L177.70 361.03 L178.02 361.04 L178.34 361.06 L178.66 361.07 L178.98 361.09 L179.30 361.10 L179.62 361.12 L179.94 361.13 L180.26 361.14 L180.58 361.15 L180.90 361.16 L181.22 361.17 L181.54 361.19 L181.86 361.20 L182.18 361.21 L182.50 361.22 L182.82 361.23 L183.14 361.23 L183.46 361.24 L183.78 361.25 L184.10 361.26 L184.42 361.27 L184.74 361.28 L185.07 361.29 L185.39 361.30 L185.71 361.30 L186.03 361.31 L186.35 361.32 L186.67 361.32 L186.99 361.33 L187.31 361.33 L187.63 361.34 L187.95 361.34 L188.27 361.34 L188.59 361.35 L188.91 361.35 L189.23 361.35 L189.55 361.35 L189.87 361.35 L190.19 361.36 L190.51 361.36 L190.83 361.36 L191.15 361.36 L191.47 361.36 L191.79 361.37 L192.11 361.37 L192.43 361.37 L192.75 361.38 L193.07 361.38 L193.39 361.39 L193.71 361.39 L194.03 361.40 L194.35 361.40 L194.67 361.41 L194.99 361.42 L195.31 361.43 L195.63 361.44 L195.95 361.45 L196.27 361.46 L196.59 361.47 L196.91 361.49 L197.23 361.51 L197.55 361.54 L197.87 361.56 L198.19 361.59 L198.51 361.62 L198.83 361.66 L199.15 361.69 L199.47 361.73 L199.79 361.76 L200.11 361.80 L200.43 361.83" fill="none" stroke="#E97132" stroke-width="2.0" stroke-linejoin="round" stroke-linecap="round"/>
<path d="M60.20 362.50 L60.52 362.50 L60.84 362.50 L61.16 362.50 L61.48 362.50 L61.80 362.50 L62.12 362.50 L62.44 362.50 L62.76 362.50 L63.08 362.50 L63.40 362.50 L63.72 362.50 L64.04 362.50 L64.36 362.50 L64.68 362.50 L65.00 362.50 L65.32 362.50 L65.64 362.50 L65.96 362.50 L66.28 362.50 L66.60 362.50 L66.92 362.50 L67.24 362.50 L67.56 362.50 L67.88 362.50 L68.20 362.50 L68.52 362.50 L68.84 362.50 L69.16 362.50 L69.48 362.50 L69.81 362.50 L70.13 362.50 L70.45 362.50 L70.77 362.50 L71.09 362.50 L71.41 362.50 L71.73 362.50 L72.05 362.50 L72.37 362.50 L72.69 362.50 L73.01 362.50 L73.33 362.50 L73.65 362.50 L73.97 362.50 L74.29 362.50 L74.61 362.50 L74.93 362.50 L75.25 362.50 L75.57 362.50 L75.89 362.50 L76.21 362.50 L76.53 362.50 L76.85 362.50 L77.17 362.50 L77.49 362.50 L77.81 362.50 L78.13 362.50 L78.45 362.48 L78.77 362.45 L79.09 362.39 L79.41 362.28 L79.73 362.10 L80.05 361.87 L80.37 361.58 L80.69 361.23 L81.01 360.81 L81.33 360.30 L81.65 359.54 L81.97 358.40 L82.29 356.75 L82.61 354.54 L82.93 351.91 L83.25 347.67 L83.57 341.77 L83.89 335.08 L84.21 328.27 L84.53 321.75 L84.85 315.18 L85.17 308.28 L85.49 300.74 L85.81 292.49 L86.13 283.96 L86.45 275.18 L86.77 266.28 L87.09 257.99 L87.41 250.09 L87.73 242.90 L88.05 236.25 L88.37 230.66 L88.69 226.82 L89.02 224.17 L89.34 222.67 L89.66 222.46 L89.98 223.56 L90.30 225.59 L90.62 228.32 L90.94 231.89 L91.26 236.12 L91.58 240.92 L91.90 246.40 L92.22 252.18 L92.54 257.95 L92.86 263.91 L93.18 269.81 L93.50 275.39 L93.82 280.72 L94.14 285.97 L94.46 291.18 L94.78 296.21 L95.10 301.04 L95.42 305.74 L95.74 310.47 L96.06 315.23 L96.38 319.65 L96.70 323.45 L97.02 326.79 L97.34 329.66 L97.66 332.02 L97.98 333.99 L98.30 335.70 L98.62 337.18 L98.94 338.50 L99.26 339.67 L99.58 340.66 L99.90 341.51 L100.22 342.28 L100.54 343.03 L100.86 343.81 L101.18 344.57 L101.50 345.32 L101.82 346.04 L102.14 346.76 L102.46 347.47 L102.78 348.18 L103.10 348.91 L103.42 349.63 L103.74 350.35 L104.06 351.06 L104.38 351.77 L104.70 352.47 L105.02 353.16 L105.34 353.86 L105.66 354.56 L105.98 355.26 L106.30 355.93 L106.62 356.56 L106.94 357.13 L107.26 357.64 L107.58 358.10 L107.90 358.52 L108.23 358.89 L108.55 359.22 L108.87 359.52 L109.19 359.78 L109.51 360.02 L109.83 360.24 L110.15 360.44 L110.47 360.63 L110.79 360.80 L111.11 360.95 L111.43 361.08 L111.75 361.20 L112.07 361.29 L112.39 361.36 L112.71 361.40 L113.03 361.42 L113.35 361.41 L113.67 361.39 L113.99 361.34 L114.31 361.29 L114.63 361.23 L114.95 361.17 L115.27 361.10 L115.59 361.05 L115.91 360.98 L116.23 360.90 L116.55 360.81 L116.87 360.71 L117.19 360.61 L117.51 360.52 L117.83 360.43 L118.15 360.35 L118.47 360.28 L118.79 360.20 L119.11 360.13 L119.43 360.06 L119.75 360.00 L120.07 359.95 L120.39 359.92 L120.71 359.91 L121.03 359.92 L121.35 359.95 L121.67 360.00 L121.99 360.07 L122.31 360.15 L122.63 360.24 L122.95 360.33 L123.27 360.42 L123.59 360.53 L123.91 360.66 L124.23 360.78 L124.55 360.91 L124.87 361.02 L125.19 361.11 L125.51 361.21 L125.83 361.30 L126.15 361.38 L126.47 361.47 L126.79 361.55 L127.11 361.63 L127.44 361.70 L127.76 361.77 L128.08 361.84 L128.40 361.91 L128.72 361.97 L129.04 362.03 L129.36 362.08 L129.68 362.13 L130.00 362.18 L130.32 362.22 L130.64 362.25 L130.96 362.29 L131.28 362.32 L131.60 362.35 L131.92 362.38 L132.24 362.41 L132.56 362.44 L132.88 362.46 L133.20 362.47 L133.52 362.49 L133.84 362.50 L134.16 362.50 L134.48 362.50 L134.80 362.50 L135.12 362.50 L135.44 362.50 L135.76 362.50 L136.08 362.50 L136.40 362.50 L136.72 362.50 L137.04 362.50 L137.36 362.50 L137.68 362.50 L138.00 362.50 L138.32 362.50 L138.64 362.50 L138.96 362.50 L139.28 362.50 L139.60 362.50 L139.92 362.50 L140.24 362.50 L140.56 362.50 L140.88 362.50 L141.20 362.50 L141.52 362.50 L141.84 362.50 L142.16 362.50 L142.48 362.50 L142.80 362.50 L143.12 362.50 L143.44 362.50 L143.76 362.50 L144.08 362.50 L144.40 362.50 L144.72 362.50 L145.04 362.50 L145.36 362.50 L145.68 362.50 L146.00 362.50 L146.32 362.50 L146.65 362.50 L146.97 362.50 L147.29 362.50 L147.61 362.50 L147.93 362.50 L148.25 362.50 L148.57 362.50 L148.89 362.50 L149.21 362.50 L149.53 362.50 L149.85 362.50 L150.17 362.50 L150.49 362.50 L150.81 362.50 L151.13 362.50 L151.45 362.50 L151.77 362.50 L152.09 362.50 L152.41 362.50 L152.73 362.50 L153.05 362.50 L153.37 362.50 L153.69 362.50 L154.01 362.50 L154.33 362.50 L154.65 362.50 L154.97 362.50 L155.29 362.50 L155.61 362.50 L155.93 362.50 L156.25 362.50 L156.57 362.50 L156.89 362.50 L157.21 362.50 L157.53 362.50 L157.85 362.50 L158.17 362.50 L158.49 362.50 L158.81 362.50 L159.13 362.50 L159.45 362.50 L159.77 362.50 L160.09 362.50 L160.41 362.50 L160.73 362.50 L161.05 362.50 L161.37 362.50 L161.69 362.50 L162.01 362.50 L162.33 362.50 L162.65 362.50 L162.97 362.50 L163.29 362.50 L163.61 362.50 L163.93 362.50 L164.25 362.50 L164.57 362.50 L164.89 362.50 L165.21 362.50 L165.53 362.50 L165.86 362.50 L166.18 362.50 L166.50 362.50 L166.82 362.50 L167.14 362.50 L167.46 362.50 L167.78 362.50 L168.10 362.50 L168.42 362.50 L168.74 362.50 L169.06 362.50 L169.38 362.50 L169.70 362.50 L170.02 362.50 L170.34 362.50 L170.66 362.50 L170.98 362.50 L171.30 362.50 L171.62 362.50 L171.94 362.50 L172.26 362.50 L172.58 362.50 L172.90 362.50 L173.22 362.50 L173.54 362.50 L173.86 362.50 L174.18 362.50 L174.50 362.50 L174.82 362.50 L175.14 362.50 L175.46 362.50 L175.78 362.50 L176.10 362.50 L176.42 362.50 L176.74 362.50 L177.06 362.50 L177.38 362.50 L177.70 362.50 L178.02 362.50 L178.34 362.50 L178.66 362.50 L178.98 362.50 L179.30 362.50 L179.62 362.50 L179.94 362.50 L180.26 362.50 L180.58 362.50 L180.90 362.50 L181.22 362.50 L181.54 362.50 L181.86 362.50 L182.18 362.50 L182.50 362.50 L182.82 362.50 L183.14 362.50 L183.46 362.50 L183.78 362.50 L184.10 362.50 L184.42 362.50 L184.74 362.50 L185.07 362.50 L185.39 362.50 L185.71 362.50 L186.03 362.50 L186.35 362.50 L186.67 362.50 L186.99 362.50 L187.31 362.50 L187.63 362.50 L187.95 362.50 L188.27 362.50 L188.59 362.50 L188.91 362.50 L189.23 362.50 L189.55 362.50 L189.87 362.50 L190.19 362.50 L190.51 362.50 L190.83 362.50 L191.15 362.50 L191.47 362.50 L191.79 362.50 L192.11 362.50 L192.43 362.50 L192.75 362.50 L193.07 362.50 L193.39 362.50 L193.71 362.50 L194.03 362.50 L194.35 362.50 L194.67 362.50 L194.99 362.50 L195.31 362.50 L195.63 362.50 L195.95 362.50 L196.27 362.50 L196.59 362.50 L196.91 362.50 L197.23 362.50 L197.55 362.50 L197.87 362.50 L198.19 362.50 L198.51 362.50 L198.83 362.50 L199.15 362.50 L199.47 362.50 L199.79 362.50 L200.11 362.50 L200.43 362.50 L200.75 362.50 L201.07 362.50 L201.39 362.50 L201.71 362.50 L202.03 362.50 L202.35 362.50 L202.67 362.50 L202.99 362.50 L203.31 362.50 L203.63 362.50 L203.95 362.50 L204.28 362.50 L204.60 362.50 L204.92 362.50 L205.24 362.50 L205.56 362.50 L205.88 362.50 L206.20 362.50 L206.52 362.50 L206.84 362.50 L207.16 362.50 L207.48 362.50 L207.80 362.50 L208.12 362.50 L208.44 362.50 L208.76 362.50 L209.08 362.50 L209.40 362.50 L209.72 362.50 L210.04 362.50 L210.36 362.50 L210.68 362.50 L211.00 362.50 L211.32 362.50 L211.64 362.50 L211.96 362.50 L212.28 362.50 L212.60 362.50 L212.92 362.50 L213.24 362.50 L213.56 362.50 L213.88 362.50 L214.20 362.50 L214.52 362.50 L214.84 362.50 L215.16 362.50 L215.48 362.50 L215.80 362.50 L216.12 362.50 L216.44 362.50 L216.76 362.50 L217.08 362.50 L217.40 362.50 L217.72 362.50 L218.04 362.50 L218.36 362.50 L218.68 362.50 L219.00 362.50 L219.32 362.50 L219.64 362.50 L219.96 362.50 L220.28 362.50 L220.60 362.50 L220.92 362.50 L221.24 362.50 L221.56 362.50 L221.88 362.50 L222.20 362.50 L222.52 362.50 L222.84 362.50 L223.16 362.50 L223.49 362.50 L223.81 362.50 L224.13 362.50 L224.45 362.50 L224.77 362.50 L225.09 362.50 L225.41 362.50 L225.73 362.50 L226.05 362.50 L226.37 362.50 L226.69 362.50 L227.01 362.50 L227.33 362.50 L227.65 362.50 L227.97 362.50 L228.29 362.50 L228.61 362.50 L228.93 362.50 L229.25 362.50 L229.57 362.50 L229.89 362.50 L230.21 362.50 L230.53 362.50 L230.85 362.50 L231.17 362.50 L231.49 362.50 L231.81 362.50 L232.13 362.50 L232.45 362.50 L232.77 362.50 L233.09 362.50 L233.41 362.50 L233.73 362.50 L234.05 362.50 L234.37 362.50 L234.69 362.50 L235.01 362.50 L235.33 362.50 L235.65 362.50 L235.97 362.50 L236.29 362.50 L236.61 362.50 L236.93 362.50 L237.25 362.50 L237.57 362.50 L237.89 362.50 L238.21 362.50 L238.53 362.50 L238.85 362.50 L239.17 362.50 L239.49 362.50 L239.81 362.50 L240.13 362.50 L240.45 362.50 L240.77 362.50 L241.09 362.50 L241.41 362.50 L241.73 362.50 L242.05 362.50 L242.37 362.50 L242.70 362.50 L243.02 362.50 L243.34 362.50 L243.66 362.50 L243.98 362.50 L244.30 362.50 L244.62 362.50 L244.94 362.50 L245.26 362.50 L245.58 362.50 L245.90 362.50 L246.22 362.50 L246.54 362.50 L246.86 362.50 L247.18 362.50 L247.50 362.50 L247.82 362.50 L248.14 362.50 L248.46 362.50 L248.78 362.50 L249.10 362.50 L249.42 362.50 L249.74 362.50 L250.06 362.50 L250.38 362.50 L250.70 362.50 L251.02 362.50 L251.34 362.50 L251.66 362.50 L251.98 362.50 L252.30 362.50" fill="none" stroke="#156082" stroke-width="2.0" stroke-linejoin="round" stroke-linecap="round"/>
<g font-size="9" fill="#222" stroke="#222" stroke-width="0.18">
<text x="51.60" y="364.74" text-anchor="end">0</text>
<text x="51.60" y="335.92" text-anchor="end">10</text>
<text x="51.60" y="307.10" text-anchor="end">20</text>
<text x="51.60" y="278.28" text-anchor="end">30</text>
<text x="51.60" y="249.46" text-anchor="end">40</text>
<text x="51.60" y="220.64" text-anchor="end">50</text>
<text x="60.20" y="377.84" text-anchor="middle">0</text>
<text x="92.22" y="377.84" text-anchor="middle">100</text>
<text x="124.23" y="377.84" text-anchor="middle">200</text>
<text x="156.25" y="377.84" text-anchor="middle">300</text>
<text x="188.27" y="377.84" text-anchor="middle">400</text>
<text x="220.28" y="377.84" text-anchor="middle">500</text>
<text x="252.30" y="377.84" text-anchor="middle">600</text>
</g>
<text x="156.60" y="389.30" font-size="10" font-weight="bold" letter-spacing="0.25" text-anchor="middle" fill="#111">Size (nm)</text>
<text transform="translate(35.50 290.00) rotate(-90)" font-size="10.4" font-weight="bold" text-anchor="middle" fill="#111">Particles x 10<tspan font-size="6.448" dy="-4.0">6</tspan><tspan dy="4.0"> / mL</tspan></text>
<path d="M216.90 223.10 H232.90" stroke="#4EA72E" stroke-width="2.2" stroke-linecap="round" fill="none"/>
<text x="235.00" y="226.16" font-size="8.5" fill="#222" stroke="#222" stroke-width="0.15">500 aPS</text>
<path d="M216.90 240.00 H232.90" stroke="#E97132" stroke-width="2.0" stroke-linecap="round" fill="none"/>
<text x="235.00" y="243.06" font-size="8.5" fill="#222" stroke="#222" stroke-width="0.15">300 aPS</text>
<path d="M216.90 256.80 H232.90" stroke="#156082" stroke-width="2.0" stroke-linecap="round" fill="none"/>
<text x="235.00" y="259.86" font-size="8.5" fill="#222" stroke="#222" stroke-width="0.15">100 aPS</text>
<g stroke="#3a3a3a" stroke-width="1.05" fill="none">
<path d="M338.80 224.90 V363.90"/>
<path d="M338.80 363.90 H529.10"/>
<path d="M335.80 363.90 H338.80"/>
<path d="M337.00 350.00 H338.80"/>
<path d="M335.80 336.10 H338.80"/>
<path d="M337.00 322.20 H338.80"/>
<path d="M335.80 308.30 H338.80"/>
<path d="M337.00 294.40 H338.80"/>
<path d="M335.80 280.50 H338.80"/>
<path d="M337.00 266.60 H338.80"/>
<path d="M335.80 252.70 H338.80"/>
<path d="M337.00 238.80 H338.80"/>
<path d="M335.80 224.90 H338.80"/>
<path d="M338.80 363.90 V366.90"/>
<path d="M354.66 363.90 V365.70"/>
<path d="M370.52 363.90 V366.90"/>
<path d="M386.38 363.90 V365.70"/>
<path d="M402.23 363.90 V366.90"/>
<path d="M418.09 363.90 V365.70"/>
<path d="M433.95 363.90 V366.90"/>
<path d="M449.81 363.90 V365.70"/>
<path d="M465.67 363.90 V366.90"/>
<path d="M481.53 363.90 V365.70"/>
<path d="M497.38 363.90 V366.90"/>
<path d="M513.24 363.90 V365.70"/>
<path d="M529.10 363.90 V366.90"/>
</g>
<path d="M382.57 363.90 L382.89 363.90 L383.20 363.90 L383.52 363.90 L383.84 363.90 L384.15 363.90 L384.47 363.90 L384.79 363.90 L385.11 363.90 L385.42 363.90 L385.74 363.90 L386.06 363.90 L386.38 363.90 L386.69 363.90 L387.01 363.90 L387.33 363.90 L387.64 363.90 L387.96 363.90 L388.28 363.90 L388.60 363.90 L388.91 363.90 L389.23 363.90 L389.55 363.90 L389.86 363.90 L390.18 363.90 L390.50 363.90 L390.82 363.90 L391.13 363.90 L391.45 363.90 L391.77 363.90 L392.08 363.90 L392.40 363.90 L392.72 363.90 L393.04 363.90 L393.35 363.90 L393.67 363.90 L393.99 363.90 L394.30 363.90 L394.62 363.90 L394.94 363.90 L395.26 363.90 L395.57 363.90 L395.89 363.90 L396.21 363.90 L396.52 363.90 L396.84 363.90 L397.16 363.90 L397.48 363.90 L397.79 363.90 L398.11 363.90 L398.43 363.90 L398.74 363.90 L399.06 363.90 M422.85 363.30 L423.17 363.22 L423.48 363.14 L423.80 363.06 L424.12 362.97 L424.44 362.89 L424.75 362.81 L425.07 362.74 L425.39 362.67 L425.70 362.62 L426.02 362.57 L426.34 362.54 L426.66 362.52 L426.97 362.51 L427.29 362.51 L427.61 362.53 L427.92 362.55 L428.24 362.59 L428.56 362.63 L428.88 362.67 L429.19 362.73 L429.51 362.79 L429.83 362.85 L430.14 362.92 L430.46 362.99 L430.78 363.06 L431.10 363.13 L431.41 363.20 L431.73 363.26 L432.05 363.33 M444.10 363.37 L444.42 363.27 L444.73 363.15 L445.05 363.01 L445.37 362.85 L445.69 362.67 L446.00 362.46 L446.32 362.22 L446.64 361.94 L446.95 361.63 L447.27 361.27 L447.59 360.87 L447.91 360.42 L448.22 359.92 L448.54 359.35 L448.86 358.73 L449.17 358.03 L449.49 357.26 L449.81 356.42 L450.13 355.50 L450.44 354.50 L450.76 353.41 L451.08 352.23 L451.39 350.96 L451.71 349.59 L452.03 348.14 L452.35 346.59 L452.66 344.95 L452.98 343.23 L453.30 341.42 L453.61 339.53 L453.93 337.57 L454.25 335.54 L454.57 333.45 L454.88 331.31 L455.20 329.14 L455.52 326.94 L455.83 324.73 L456.15 322.52 L456.47 320.33 L456.79 318.16 L457.10 316.05 L457.42 314.00 L457.74 312.03 L458.05 310.15 L458.37 308.39 L458.69 306.75 L459.01 305.26 L459.32 303.92 L459.64 302.74 L459.96 301.75 L460.27 300.94 L460.59 300.33 L460.91 299.91 L461.23 299.71 L461.54 299.70 L461.86 299.84 L462.18 300.11 L462.50 300.53 L462.81 301.07 L463.13 301.75 L463.45 302.55 L463.76 303.47 L464.08 304.51 L464.40 305.65 L464.72 306.90 L465.03 308.24 L465.35 309.67 L465.67 311.17 L465.98 312.74 L466.30 314.38 L466.62 316.06 L466.94 317.79 L467.25 319.55 L467.57 321.34 L467.89 323.14 L468.20 324.95 L468.52 326.76 L468.84 328.56 L469.16 330.35 L469.47 332.12 L469.79 333.86 L470.11 335.56 L470.42 337.23 L470.74 338.85 L471.06 340.42 L471.38 341.94 L471.69 343.41 L472.01 344.82 L472.33 346.18 L472.64 347.47 L472.96 348.70 L473.28 349.87 L473.60 350.98 L473.91 352.02 L474.23 353.01 L474.55 353.93 L474.86 354.80 L475.18 355.61 L475.50 356.36 L475.82 357.06 L476.13 357.71 L476.45 358.31 L476.77 358.86 L477.08 359.36 L477.40 359.83 L477.72 360.25 L478.04 360.64 L478.35 361.00 L478.67 361.32 L478.99 361.61 L479.30 361.87 L479.62 362.10 L479.94 362.32 L480.26 362.50 L480.57 362.67 L480.89 362.83 L481.21 362.96 L481.53 363.08 L481.84 363.19 L482.16 363.28 L482.48 363.36" fill="none" stroke="#4EA72E" stroke-width="2.5" stroke-linejoin="round" stroke-linecap="round"/>
<path d="M353.71 363.90 L354.02 363.90 L354.34 363.90 L354.66 363.90 L354.98 363.90 L355.29 363.90 L355.61 363.90 L355.93 363.90 L356.24 363.90 L356.56 363.90 L356.88 363.90 L357.20 363.90 L357.51 363.90 L357.83 363.90 L358.15 363.90 L358.46 363.90 L358.78 363.90 L359.10 363.90 L359.42 363.90 L359.73 363.90 L360.05 363.90 L360.37 363.90 L360.68 363.90 L361.00 363.90 L361.32 363.90 L361.64 363.90 L361.95 363.90 L362.27 363.90 L362.59 363.90 L362.90 363.90 L363.22 363.90 L363.54 363.90 L363.86 363.90 L364.17 363.90 L364.49 363.90 L364.81 363.90 L365.12 363.90 L365.44 363.90 L365.76 363.90 L366.08 363.90 L366.39 363.90 L366.71 363.90 L367.03 363.90 L367.35 363.90 L367.66 363.90 L367.98 363.90 L368.30 363.90 L368.61 363.90 L368.93 363.90 L369.25 363.90 L369.57 363.90 L369.88 363.90 L370.20 363.90 L370.52 363.90 L370.83 363.90 L371.15 363.90 L371.47 363.90 L371.79 363.90 L372.10 363.90 L372.42 363.90 L372.74 363.90 L373.05 363.90 L373.37 363.90 L373.69 363.90 L374.01 363.90 L374.32 363.90 L374.64 363.90 L374.96 363.90 L375.27 363.90 L375.59 363.90 L375.91 363.90 L376.23 363.90 L376.54 363.90 L376.86 363.90 L377.18 363.90 L377.49 363.90 L377.81 363.90 L378.13 363.90 L378.45 363.90 L378.76 363.90 L379.08 363.90 L379.40 363.90 L379.71 363.90 L380.03 363.90 L380.35 363.90 L380.67 363.90 L380.98 363.89 L381.30 363.87 L381.62 363.83 L381.93 363.76 L382.25 363.65 L382.57 363.49 L382.89 363.28 L383.20 363.03 L383.52 362.75 L383.84 362.48 L384.15 362.22 L384.47 361.99 L384.79 361.81 L385.11 361.69 L385.42 361.65 L385.74 361.67 L386.06 361.74 L386.38 361.84 L386.69 361.97 L387.01 362.10 L387.33 362.23 L387.64 362.35 L387.96 362.45 L388.28 362.50 L388.60 362.51 L388.91 362.46 L389.23 362.38 L389.55 362.27 L389.86 362.13 L390.18 361.98 L390.50 361.80 L390.82 361.62 L391.13 361.44 L391.45 361.24 L391.77 360.98 L392.08 360.68 L392.40 360.38 L392.72 360.10 L393.04 359.88 L393.35 359.75 L393.67 359.71 L393.99 359.75 L394.30 359.84 L394.62 359.96 L394.94 360.11 L395.26 360.25 L395.57 360.39 L395.89 360.50 L396.21 360.56 L396.52 360.57 L396.84 360.57 L397.16 360.54 L397.48 360.50 L397.79 360.45 L398.11 360.37 L398.43 360.28 L398.74 360.17 L399.06 360.05 L399.38 359.91 L399.70 359.75 L400.01 359.59 L400.33 359.40 L400.65 359.20 L400.96 358.96 L401.28 358.70 L401.60 358.40 L401.92 358.06 L402.23 357.70 L402.55 357.32 L402.87 356.93 L403.18 356.52 L403.50 356.09 L403.82 355.64 L404.14 355.16 L404.45 354.66 L404.77 354.13 L405.09 353.57 L405.41 352.98 L405.72 352.34 L406.04 351.66 L406.36 350.93 L406.67 350.16 L406.99 349.36 L407.31 348.53 L407.63 347.68 L407.94 346.80 L408.26 345.91 L408.58 345.02 L408.89 344.10 L409.21 343.15 L409.53 342.17 L409.85 341.16 L410.16 340.13 L410.48 339.09 L410.80 338.05 L411.11 337.02 L411.43 336.00 L411.75 335.00 L412.07 334.03 L412.38 333.10 L412.70 332.21 L413.02 331.37 L413.33 330.59 L413.65 329.85 L413.97 329.13 L414.29 328.44 L414.60 327.78 L414.92 327.15 L415.24 326.54 L415.55 325.96 L415.87 325.40 L416.19 324.86 L416.51 324.35 L416.82 323.85 L417.14 323.38 L417.46 322.92 L417.77 322.49 L418.09 322.13 L418.41 321.83 L418.73 321.59 L419.04 321.43 L419.36 321.33 L419.68 321.30 L419.99 321.33 L420.31 321.43 L420.63 321.55 L420.95 321.69 L421.26 321.88 L421.58 322.13 L421.90 322.43 L422.21 322.81 L422.53 323.28 L422.85 323.83 L423.17 324.50 L423.48 325.29 L423.80 326.19 L424.12 327.20 L424.44 328.28 L424.75 329.41 L425.07 330.57 L425.39 331.75 L425.70 332.91 L426.02 334.04 L426.34 335.12 L426.66 336.14 L426.97 337.16 L427.29 338.20 L427.61 339.24 L427.92 340.29 L428.24 341.32 L428.56 342.35 L428.88 343.37 L429.19 344.36 L429.51 345.32 L429.83 346.26 L430.14 347.16 L430.46 348.02 L430.78 348.83 L431.10 349.59 L431.41 350.31 L431.73 351.00 L432.05 351.65 L432.36 352.27 L432.68 352.86 L433.00 353.42 L433.32 353.96 L433.63 354.47 L433.95 354.97 L434.27 355.44 L434.58 355.89 L434.90 356.33 L435.22 356.76 L435.54 357.17 L435.85 357.56 L436.17 357.92 L436.49 358.25 L436.80 358.56 L437.12 358.85 L437.44 359.12 L437.76 359.38 L438.07 359.62 L438.39 359.86 L438.71 360.08 L439.02 360.30 L439.34 360.52 L439.66 360.74 L439.98 360.95 L440.29 361.16 L440.61 361.36 L440.93 361.55 L441.24 361.73 L441.56 361.90 L441.88 362.06 L442.20 362.22 L442.51 362.36 L442.83 362.51 L443.15 362.64 L443.47 362.77 L443.78 362.89 L444.10 363.01 L444.42 363.12 L444.73 363.23 L445.05 363.33" fill="none" stroke="#E97132" stroke-width="2.0" stroke-linejoin="round" stroke-linecap="round"/>
<path d="M338.80 363.90 L339.12 363.90 L339.43 363.90 L339.75 363.90 L340.07 363.90 L340.39 363.90 L340.70 363.90 L341.02 363.90 L341.34 363.90 L341.65 363.90 L341.97 363.90 L342.29 363.90 L342.61 363.90 L342.92 363.90 L343.24 363.90 L343.56 363.90 L343.87 363.90 L344.19 363.90 L344.51 363.90 L344.83 363.90 L345.14 363.90 L345.46 363.90 L345.78 363.90 L346.09 363.90 L346.41 363.90 L346.73 363.90 L347.05 363.90 L347.36 363.90 L347.68 363.90 L348.00 363.90 L348.31 363.90 L348.63 363.90 L348.95 363.90 L349.27 363.90 L349.58 363.90 L349.90 363.90 L350.22 363.90 L350.54 363.90 L350.85 363.90 L351.17 363.90 L351.49 363.90 L351.80 363.90 L352.12 363.90 L352.44 363.88 L352.76 363.83 L353.07 363.74 L353.39 363.63 L353.71 363.49 L354.02 363.29 L354.34 363.02 L354.66 362.74 L354.98 362.52 L355.29 362.39 L355.61 362.29 L355.93 362.22 L356.24 362.15 L356.56 362.07 L356.88 361.96 L357.20 361.87 L357.51 361.82 L357.83 361.73 L358.15 361.53 L358.46 361.17 L358.78 360.60 L359.10 359.89 L359.42 359.05 L359.73 358.10 L360.05 357.06 L360.37 355.88 L360.68 354.54 L361.00 353.12 L361.32 351.71 L361.64 350.40 L361.95 349.27 L362.27 348.43 L362.59 347.87 L362.90 347.50 L363.22 347.25 L363.54 347.16 L363.86 347.30 L364.17 347.46 L364.49 347.43 L364.81 347.02 L365.12 346.42 L365.44 345.65 L365.76 344.67 L366.08 343.43 L366.39 341.88 L366.71 340.01 L367.03 337.91 L367.35 335.68 L367.66 333.41 L367.98 331.20 L368.30 329.14 L368.61 327.22 L368.93 325.30 L369.25 323.42 L369.57 321.60 L369.88 319.88 L370.20 318.28 L370.52 316.84 L370.83 315.54 L371.15 314.34 L371.47 313.29 L371.79 312.45 L372.10 311.88 L372.42 311.64 L372.74 311.86 L373.05 312.61 L373.37 313.73 L373.69 315.05 L374.01 316.42 L374.32 317.85 L374.64 319.51 L374.96 321.28 L375.27 323.01 L375.59 324.56 L375.91 325.78 L376.23 326.65 L376.54 327.30 L376.86 327.82 L377.18 328.33 L377.49 328.96 L377.81 329.80 L378.13 330.94 L378.45 332.35 L378.76 333.90 L379.08 335.51 L379.40 337.06 L379.71 338.46 L380.03 339.84 L380.35 341.23 L380.67 342.59 L380.98 343.90 L381.30 345.12 L381.62 346.24 L381.93 347.22 L382.25 348.07 L382.57 348.81 L382.89 349.46 L383.20 350.03 L383.52 350.55 L383.84 351.02 L384.15 351.47 L384.47 351.89 L384.79 352.28 L385.11 352.65 L385.42 352.99 L385.74 353.30 L386.06 353.60 L386.38 353.88 L386.69 354.15 L387.01 354.41 L387.33 354.67 L387.64 354.92 L387.96 355.18 L388.28 355.43 L388.60 355.67 L388.91 355.90 L389.23 356.11 L389.55 356.29 L389.86 356.45 L390.18 356.56 L390.50 356.64 L390.82 356.67 L391.13 356.60 L391.45 356.42 L391.77 356.17 L392.08 355.89 L392.40 355.59 L392.72 355.32 L393.04 355.11 L393.35 354.99 L393.67 355.00 L393.99 355.19 L394.30 355.58 L394.62 356.10 L394.94 356.70 L395.26 357.32 L395.57 357.92 L395.89 358.46 L396.21 359.05 L396.52 359.65 L396.84 360.27 L397.16 360.89 L397.48 361.48 L397.79 362.03 L398.11 362.53 L398.43 362.96 L398.74 363.30 L399.06 363.54 L399.38 363.70 L399.70 363.80 L400.01 363.85 L400.33 363.88 L400.65 363.89 L400.96 363.90 L401.28 363.90 L401.60 363.90 L401.92 363.90 L402.23 363.90 L402.55 363.90 L402.87 363.90 L403.18 363.90 L403.50 363.90 L403.82 363.90 L404.14 363.90 L404.45 363.90 L404.77 363.90 L405.09 363.90 L405.41 363.90 L405.72 363.90 L406.04 363.90 L406.36 363.90 L406.67 363.90 L406.99 363.90 L407.31 363.90 L407.63 363.90 L407.94 363.90 L408.26 363.90 L408.58 363.90 L408.89 363.90 L409.21 363.90 L409.53 363.90 L409.85 363.90 L410.16 363.90 L410.48 363.90 L410.80 363.90 L411.11 363.90 L411.43 363.90 L411.75 363.90 L412.07 363.90 L412.38 363.90 L412.70 363.90 L413.02 363.90 L413.33 363.90 L413.65 363.90 L413.97 363.90 L414.29 363.90 L414.60 363.90 L414.92 363.90 L415.24 363.90 L415.55 363.90 L415.87 363.90 L416.19 363.90 L416.51 363.90 L416.82 363.90 L417.14 363.90 L417.46 363.90 L417.77 363.90 L418.09 363.90 L418.41 363.90 L418.73 363.90 L419.04 363.90 L419.36 363.90 L419.68 363.90 L419.99 363.90 L420.31 363.90 L420.63 363.90 L420.95 363.90 L421.26 363.90 L421.58 363.90 L421.90 363.90 L422.21 363.90 L422.53 363.90 L422.85 363.90 L423.17 363.90 L423.48 363.90 L423.80 363.90 L424.12 363.90 L424.44 363.90 L424.75 363.90 L425.07 363.90 L425.39 363.90 L425.70 363.90 L426.02 363.90 L426.34 363.90 L426.66 363.90 L426.97 363.90 L427.29 363.90 L427.61 363.90 L427.92 363.90 L428.24 363.90 L428.56 363.90 L428.88 363.90 L429.19 363.90 L429.51 363.90 L429.83 363.90 L430.14 363.90 L430.46 363.90 L430.78 363.90 L431.10 363.90 L431.41 363.90 L431.73 363.90 L432.05 363.90 L432.36 363.90 L432.68 363.90 L433.00 363.90 L433.32 363.90 L433.63 363.90 L433.95 363.90 L434.27 363.90 L434.58 363.90 L434.90 363.90 L435.22 363.90 L435.54 363.90 L435.85 363.90 L436.17 363.90 L436.49 363.90 L436.80 363.90 L437.12 363.90 L437.44 363.90 L437.76 363.90 L438.07 363.90 L438.39 363.90 L438.71 363.90 L439.02 363.90 L439.34 363.90 L439.66 363.90 L439.98 363.90 L440.29 363.90 L440.61 363.90 L440.93 363.90 L441.24 363.90 L441.56 363.90 L441.88 363.90 L442.20 363.90 L442.51 363.90 L442.83 363.90 L443.15 363.90 L443.47 363.90 L443.78 363.90 L444.10 363.90 L444.42 363.90 L444.73 363.90 L445.05 363.90 L445.37 363.90 L445.69 363.90 L446.00 363.90 L446.32 363.90 L446.64 363.90 L446.95 363.90 L447.27 363.90 L447.59 363.90 L447.91 363.90 L448.22 363.90 L448.54 363.90 L448.86 363.90 L449.17 363.90 L449.49 363.90 L449.81 363.90 L450.13 363.90 L450.44 363.90 L450.76 363.90 L451.08 363.90 L451.39 363.90 L451.71 363.90 L452.03 363.90 L452.35 363.90 L452.66 363.90 L452.98 363.90 L453.30 363.90 L453.61 363.90 L453.93 363.90 L454.25 363.90 L454.57 363.90 L454.88 363.90 L455.20 363.90 L455.52 363.90 L455.83 363.90 L456.15 363.90 L456.47 363.90 L456.79 363.90 L457.10 363.90 L457.42 363.90 L457.74 363.90 L458.05 363.90 L458.37 363.90 L458.69 363.90 L459.01 363.90 L459.32 363.90 L459.64 363.89 L459.96 363.86 L460.27 363.79 L460.59 363.70 L460.91 363.61 L461.23 363.50 L461.54 363.40 L461.86 363.32 L462.18 363.25 L462.50 363.21 L462.81 363.21 L463.13 363.24 L463.45 363.31 L463.76 363.39 L464.08 363.49 L464.40 363.59 L464.72 363.69 L465.03 363.78 L465.35 363.85 L465.67 363.89 L465.98 363.90 L466.30 363.90 L466.62 363.90 L466.94 363.90 L467.25 363.90 L467.57 363.90 L467.89 363.90 L468.20 363.90 L468.52 363.90 L468.84 363.90 L469.16 363.90 L469.47 363.90 L469.79 363.90 L470.11 363.90 L470.42 363.90 L470.74 363.90 L471.06 363.90 L471.38 363.90 L471.69 363.90 L472.01 363.90 L472.33 363.90 L472.64 363.90 L472.96 363.90 L473.28 363.90 L473.60 363.90 L473.91 363.90 L474.23 363.90 L474.55 363.90 L474.86 363.90 L475.18 363.90 L475.50 363.90 L475.82 363.90 L476.13 363.90 L476.45 363.90 L476.77 363.90 L477.08 363.90 L477.40 363.90 L477.72 363.90 L478.04 363.90 L478.35 363.90 L478.67 363.90 L478.99 363.90 L479.30 363.90 L479.62 363.90 L479.94 363.90 L480.26 363.90 L480.57 363.90 L480.89 363.90 L481.21 363.90 L481.53 363.90 L481.84 363.90 L482.16 363.90 L482.48 363.90 L482.79 363.90 L483.11 363.90 L483.43 363.90 L483.75 363.90 L484.06 363.90 L484.38 363.90 L484.70 363.90 L485.01 363.90 L485.33 363.90 L485.65 363.90 L485.97 363.90 L486.28 363.90 L486.60 363.90 L486.92 363.90 L487.23 363.90 L487.55 363.90 L487.87 363.90 L488.19 363.90 L488.50 363.90 L488.82 363.90 L489.14 363.90 L489.45 363.90 L489.77 363.90 L490.09 363.90 L490.41 363.90 L490.72 363.90 L491.04 363.90 L491.36 363.90 L491.67 363.90 L491.99 363.90 L492.31 363.90 L492.63 363.90 L492.94 363.90 L493.26 363.90 L493.58 363.90 L493.89 363.90 L494.21 363.90 L494.53 363.90 L494.85 363.90 L495.16 363.90 L495.48 363.90 L495.80 363.90 L496.11 363.90 L496.43 363.90 L496.75 363.90 L497.07 363.90 L497.38 363.90 L497.70 363.90 L498.02 363.90 L498.33 363.90 L498.65 363.90 L498.97 363.90 L499.29 363.90 L499.60 363.90 L499.92 363.90 L500.24 363.90 L500.56 363.90 L500.87 363.90 L501.19 363.90 L501.51 363.90 L501.82 363.90 L502.14 363.90 L502.46 363.90 L502.78 363.90 L503.09 363.90 L503.41 363.90 L503.73 363.90 L504.04 363.90 L504.36 363.90 L504.68 363.90 L505.00 363.90 L505.31 363.90 L505.63 363.90 L505.95 363.90 L506.26 363.90 L506.58 363.90 L506.90 363.90 L507.22 363.90 L507.53 363.90 L507.85 363.90 L508.17 363.90 L508.48 363.90 L508.80 363.90 L509.12 363.90 L509.44 363.90 L509.75 363.90 L510.07 363.90 L510.39 363.90 L510.70 363.90 L511.02 363.90 L511.34 363.90 L511.66 363.90 L511.97 363.90 L512.29 363.90 L512.61 363.90 L512.92 363.90 L513.24 363.90 L513.56 363.90 L513.88 363.90 L514.19 363.90 L514.51 363.90 L514.83 363.90 L515.14 363.90 L515.46 363.90 L515.78 363.90 L516.10 363.90 L516.41 363.90 L516.73 363.90 L517.05 363.90 L517.36 363.90 L517.68 363.90 L518.00 363.90 L518.32 363.90 L518.63 363.90 L518.95 363.90 L519.27 363.90 L519.59 363.90 L519.90 363.90 L520.22 363.90 L520.54 363.90 L520.85 363.90 L521.17 363.90 L521.49 363.90 L521.81 363.90 L522.12 363.90 L522.44 363.90 L522.76 363.90 L523.07 363.90 L523.39 363.90 L523.71 363.90 L524.03 363.90 L524.34 363.90 L524.66 363.90 L524.98 363.90 L525.29 363.90 L525.61 363.90 L525.93 363.90 L526.25 363.90 L526.56 363.90 L526.88 363.90 L527.20 363.90 L527.51 363.90 L527.83 363.90 L528.15 363.90 L528.47 363.90 L528.78 363.90 L529.10 363.90" fill="none" stroke="#156082" stroke-width="2.0" stroke-linejoin="round" stroke-linecap="round"/>
<g font-size="8.8" fill="#222" stroke="#222" stroke-width="0.18">
<text x="329.90" y="366.77" text-anchor="end">0</text>
<text x="329.90" y="338.97" text-anchor="end">10</text>
<text x="329.90" y="311.17" text-anchor="end">20</text>
<text x="329.90" y="283.37" text-anchor="end">30</text>
<text x="329.90" y="255.57" text-anchor="end">40</text>
<text x="329.90" y="227.77" text-anchor="end">50</text>
<text x="338.80" y="379.47" text-anchor="middle">0</text>
<text x="370.52" y="379.47" text-anchor="middle">100</text>
<text x="402.23" y="379.47" text-anchor="middle">200</text>
<text x="433.95" y="379.47" text-anchor="middle">300</text>
<text x="465.67" y="379.47" text-anchor="middle">400</text>
<text x="497.38" y="379.47" text-anchor="middle">500</text>
<text x="529.10" y="379.47" text-anchor="middle">600</text>
</g>
<text x="433.80" y="394.20" font-size="10" font-weight="bold" letter-spacing="0.25" text-anchor="middle" fill="#111">Size (nm)</text>
<text transform="translate(312.40 305.60) rotate(-90)" font-size="10.4" font-weight="bold" text-anchor="middle" fill="#111">Particles x 10<tspan font-size="6.448" dy="-4.0">6</tspan><tspan dy="4.0"> / mL</tspan></text>
<path d="M491.60 223.00 H507.50" stroke="#4EA72E" stroke-width="2.2" stroke-linecap="round" fill="none"/>
<text x="509.50" y="226.02" font-size="8.4" fill="#222" stroke="#222" stroke-width="0.15">500 cPS</text>
<path d="M491.60 239.30 H507.50" stroke="#E97132" stroke-width="2.0" stroke-linecap="round" fill="none"/>
<text x="509.50" y="242.32" font-size="8.4" fill="#222" stroke="#222" stroke-width="0.15">300 cPS</text>
<path d="M491.60 255.70 H507.50" stroke="#156082" stroke-width="2.0" stroke-linecap="round" fill="none"/>
<text x="509.50" y="258.72" font-size="8.4" fill="#222" stroke="#222" stroke-width="0.15">100 cPS</text>
</svg>
</body></html>
